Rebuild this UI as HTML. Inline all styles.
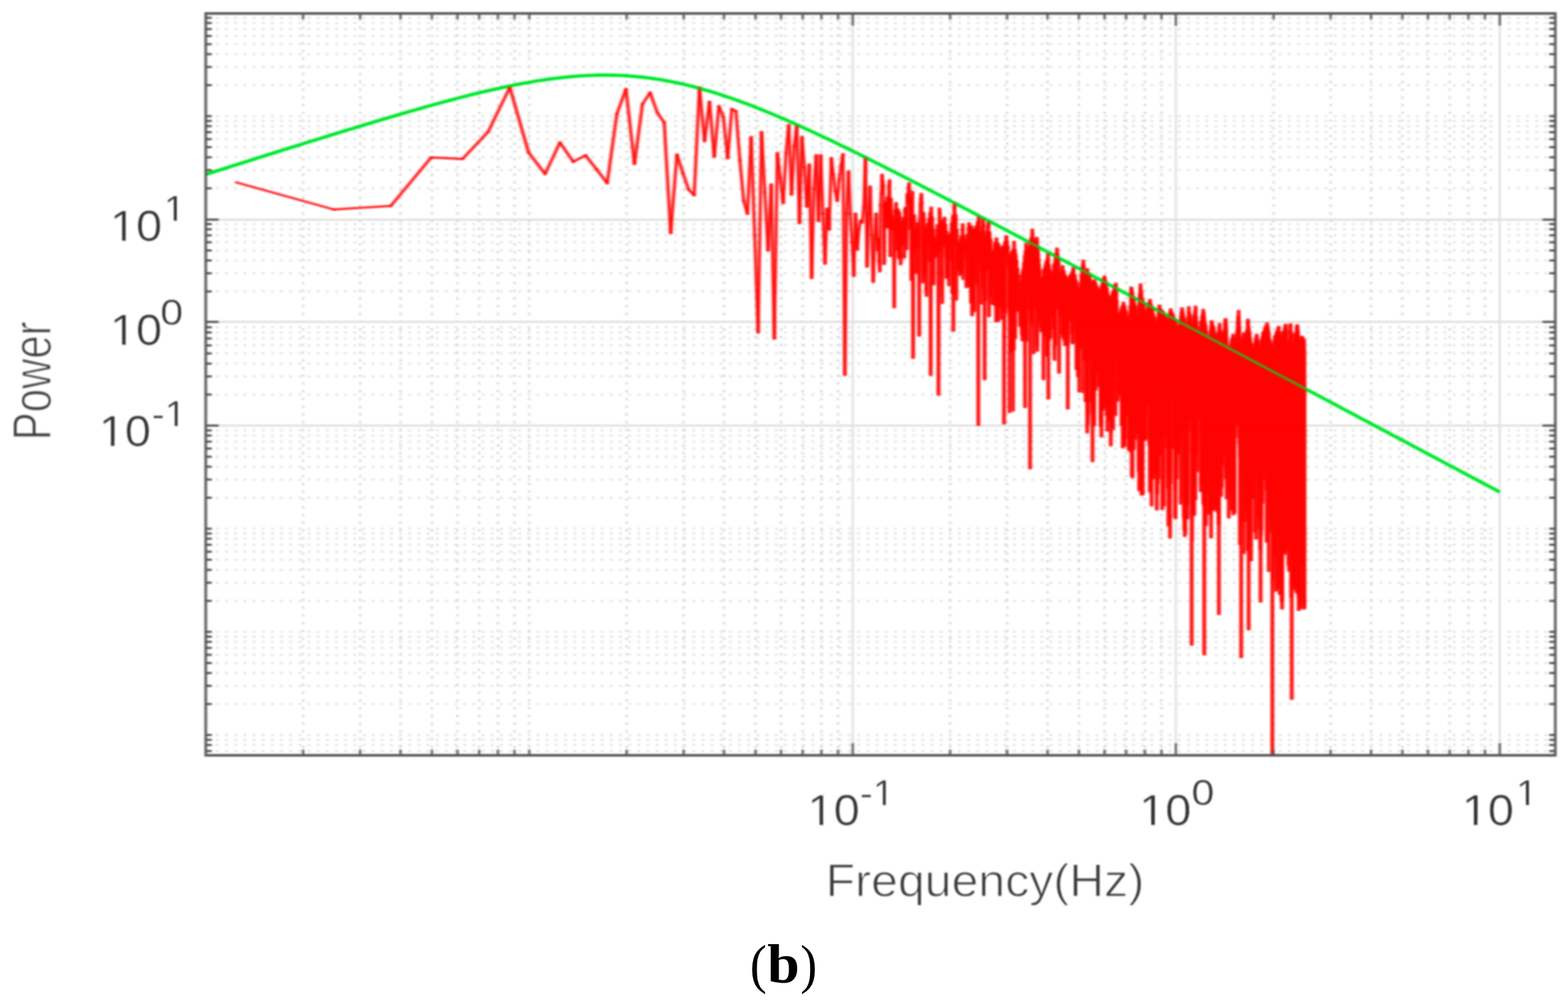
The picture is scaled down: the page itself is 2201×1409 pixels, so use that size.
<!DOCTYPE html>
<html lang="en"><head><meta charset="utf-8"><title>Power spectrum (b)</title>
<style>
html,body{margin:0;padding:0;background:#fff}
body{width:2201px;height:1409px;overflow:hidden}
svg{display:block}
text{font-family:"Liberation Sans",sans-serif}
.cap{font-family:"Liberation Serif",serif}
</style></head>
<body>
<svg width="2201" height="1409" viewBox="0 0 2201 1409">
<defs>
<filter id="b1" x="-2%" y="-2%" width="104%" height="104%" color-interpolation-filters="sRGB"><feGaussianBlur stdDeviation="1.6 1.3"/></filter>
<filter id="b2" x="-5%" y="-5%" width="110%" height="110%" color-interpolation-filters="sRGB"><feGaussianBlur stdDeviation="0.9"/></filter>
<clipPath id="c10"><polygon points="-12.40,-55.80 80.60,-55.80 80.60,7.44 33.98,7.44 33.98,-7.13 20.71,-7.13 20.71,7.44 15.95,7.44 15.95,-7.13 -12.40,-7.13"/></clipPath><clipPath id="c1"><polygon points="-10.10,-45.45 31.31,-45.45 31.31,-5.81 16.87,-5.81 16.87,6.06 12.99,6.06 12.99,-5.81 -10.10,-5.81"/></clipPath><clipPath id="cm1"><polygon points="-10.10,-45.45 48.13,-45.45 48.13,-5.81 33.68,-5.81 33.68,6.06 29.81,6.06 29.81,-5.81 -10.10,-5.81"/></clipPath>
<clipPath id="cp"><rect x="288.8" y="18.9" width="1894.3999999999999" height="1042.6"/></clipPath>
</defs>
<rect width="2201" height="1409" fill="#fff"/>
<g filter="url(#b1)">
<g stroke="#e0e0e0" stroke-width="3" stroke-dasharray="3.4 9.46" fill="none">
<path d="M303.4 1054.0H2183.2"/>
<path d="M303.4 1045.6H2183.2"/>
<path d="M303.4 1038.2H2183.2"/>
<path d="M303.4 1031.5H2183.2"/>
<path d="M303.4 988.0H2183.2"/>
<path d="M303.4 962.5H2183.2"/>
<path d="M303.4 944.4H2183.2"/>
<path d="M303.4 930.4H2183.2"/>
<path d="M303.4 918.9H2183.2"/>
<path d="M303.4 909.2H2183.2"/>
<path d="M303.4 900.8H2183.2"/>
<path d="M303.4 893.4H2183.2"/>
<path d="M303.4 886.8H2183.2"/>
<path d="M303.4 843.2H2183.2"/>
<path d="M303.4 817.7H2183.2"/>
<path d="M303.4 799.7H2183.2"/>
<path d="M303.4 785.6H2183.2"/>
<path d="M303.4 774.2H2183.2"/>
<path d="M303.4 764.5H2183.2"/>
<path d="M303.4 756.1H2183.2"/>
<path d="M303.4 748.7H2183.2"/>
<path d="M303.4 742.0H2183.2"/>
<path d="M303.4 698.5H2183.2"/>
<path d="M303.4 673.0H2183.2"/>
<path d="M303.4 654.9H2183.2"/>
<path d="M303.4 640.9H2183.2"/>
<path d="M303.4 629.4H2183.2"/>
<path d="M303.4 619.7H2183.2"/>
<path d="M303.4 611.3H2183.2"/>
<path d="M303.4 603.9H2183.2"/>
<path d="M303.4 553.7H2183.2"/>
<path d="M303.4 528.2H2183.2"/>
<path d="M303.4 510.2H2183.2"/>
<path d="M303.4 496.1H2183.2"/>
<path d="M303.4 484.7H2183.2"/>
<path d="M303.4 475.0H2183.2"/>
<path d="M303.4 466.6H2183.2"/>
<path d="M303.4 459.2H2183.2"/>
<path d="M303.4 409.0H2183.2"/>
<path d="M303.4 383.5H2183.2"/>
<path d="M303.4 365.4H2183.2"/>
<path d="M303.4 351.4H2183.2"/>
<path d="M303.4 339.9H2183.2"/>
<path d="M303.4 330.2H2183.2"/>
<path d="M303.4 321.8H2183.2"/>
<path d="M303.4 314.4H2183.2"/>
<path d="M303.4 264.2H2183.2"/>
<path d="M303.4 238.7H2183.2"/>
<path d="M303.4 220.7H2183.2"/>
<path d="M303.4 206.6H2183.2"/>
<path d="M303.4 195.2H2183.2"/>
<path d="M303.4 185.5H2183.2"/>
<path d="M303.4 177.1H2183.2"/>
<path d="M303.4 169.7H2183.2"/>
<path d="M303.4 163.1H2183.2"/>
<path d="M303.4 119.5H2183.2"/>
<path d="M303.4 94.0H2183.2"/>
<path d="M303.4 75.9H2183.2"/>
<path d="M303.4 61.9H2183.2"/>
<path d="M303.4 50.4H2183.2"/>
<path d="M303.4 40.7H2183.2"/>
<path d="M303.4 32.3H2183.2"/>
<path d="M303.4 24.9H2183.2"/>
</g>
<g stroke="#d4d4d4" stroke-width="3" stroke-dasharray="3.4 7.45" fill="none">
<path d="M425.5 26.5V1060.0"/>
<path d="M505.5 26.5V1060.0"/>
<path d="M562.2 26.5V1060.0"/>
<path d="M606.3 26.5V1060.0"/>
<path d="M642.2 26.5V1060.0"/>
<path d="M672.6 26.5V1060.0"/>
<path d="M698.9 26.5V1060.0"/>
<path d="M722.2 26.5V1060.0"/>
<path d="M743.0 26.5V1060.0"/>
<path d="M879.6 26.5V1060.0"/>
<path d="M959.6 26.5V1060.0"/>
<path d="M1016.3 26.5V1060.0"/>
<path d="M1060.4 26.5V1060.0"/>
<path d="M1096.3 26.5V1060.0"/>
<path d="M1126.7 26.5V1060.0"/>
<path d="M1153.0 26.5V1060.0"/>
<path d="M1176.3 26.5V1060.0"/>
<path d="M1333.7 26.5V1060.0"/>
<path d="M1413.7 26.5V1060.0"/>
<path d="M1470.4 26.5V1060.0"/>
<path d="M1514.5 26.5V1060.0"/>
<path d="M1550.4 26.5V1060.0"/>
<path d="M1580.8 26.5V1060.0"/>
<path d="M1607.1 26.5V1060.0"/>
<path d="M1630.4 26.5V1060.0"/>
<path d="M1787.8 26.5V1060.0"/>
<path d="M1867.8 26.5V1060.0"/>
<path d="M1924.5 26.5V1060.0"/>
<path d="M1968.6 26.5V1060.0"/>
<path d="M2004.5 26.5V1060.0"/>
<path d="M2034.9 26.5V1060.0"/>
<path d="M2061.2 26.5V1060.0"/>
<path d="M2084.5 26.5V1060.0"/>
</g>
<g stroke="#e0e0e0" stroke-width="3" fill="none">
<path d="M288.8 308.2H2183.2"/>
<path d="M288.8 451.8H2183.2"/>
<path d="M288.8 597.3H2183.2"/>
<path d="M1197.0 18.9V1060.0"/>
<path d="M1650.5 18.9V1060.0"/>
<path d="M2105.2 18.9V1060.0"/>
</g>
<g clip-path="url(#cp)">
<polyline points="288.9,244.8 293.4,243.3 298.0,241.9 302.5,240.4 307.1,239.0 311.6,237.6 316.2,236.1 320.7,234.7 325.3,233.2 329.8,231.8 334.4,230.4 338.9,228.9 343.5,227.5 348.0,226.0 352.6,224.6 357.1,223.2 361.7,221.7 366.2,220.3 370.8,218.9 375.3,217.4 379.9,216.0 384.4,214.6 389.0,213.1 393.6,211.7 398.1,210.3 402.7,208.9 407.2,207.4 411.8,206.0 416.3,204.6 420.9,203.2 425.4,201.8 430.0,200.3 434.5,198.9 439.1,197.5 443.6,196.1 448.2,194.7 452.7,193.3 457.3,191.9 461.8,190.4 466.4,189.0 470.9,187.6 475.5,186.2 480.1,184.8 484.6,183.4 489.2,182.0 493.7,180.7 498.3,179.3 502.8,177.9 507.4,176.5 511.9,175.1 516.5,173.8 521.0,172.4 525.6,171.0 530.1,169.6 534.7,168.3 539.2,166.9 543.8,165.6 548.3,164.2 552.9,162.9 557.4,161.6 562.0,160.2 566.5,158.9 571.1,157.6 575.7,156.3 580.2,155.0 584.8,153.7 589.3,152.4 593.9,151.1 598.4,149.8 603.0,148.5 607.5,147.3 612.1,146.0 616.6,144.8 621.2,143.5 625.7,142.3 630.3,141.1 634.8,139.9 639.4,138.7 643.9,137.5 648.5,136.3 653.0,135.1 657.6,134.0 662.1,132.8 666.7,131.7 671.2,130.6 675.8,129.5 680.4,128.4 684.9,127.4 689.5,126.3 694.0,125.3 698.6,124.3 703.1,123.3 707.7,122.3 712.2,121.3 716.8,120.4 721.3,119.5 725.9,118.6 730.4,117.7 735.0,116.9 739.5,116.1 744.1,115.3 748.6,114.5 753.2,113.7 757.7,113.0 762.3,112.3 766.9,111.6 771.4,111.0 776.0,110.4 780.5,109.8 785.1,109.3 789.6,108.8 794.2,108.3 798.7,107.9 803.3,107.4 807.8,107.1 812.4,106.7 816.9,106.4 821.5,106.2 826.0,105.9 830.6,105.8 835.1,105.6 839.7,105.5 844.2,105.4 848.8,105.4 853.3,105.4 857.9,105.5 862.5,105.6 867.0,105.7 871.6,105.9 876.1,106.2 880.7,106.5 885.2,106.8 889.8,107.1 894.3,107.6 898.9,108.0 903.4,108.5 908.0,109.1 912.5,109.6 917.1,110.3 921.6,111.0 926.2,111.7 930.7,112.4 935.3,113.3 939.8,114.1 944.4,115.0 948.9,115.9 953.5,116.9 958.1,117.9 962.6,119.0 967.2,120.1 971.7,121.3 976.3,122.4 980.8,123.7 985.4,124.9 989.9,126.2 994.5,127.5 999.0,128.9 1003.6,130.3 1008.1,131.7 1012.7,133.2 1017.2,134.7 1021.8,136.3 1026.3,137.8 1030.9,139.4 1035.4,141.0 1040.0,142.7 1044.5,144.4 1049.1,146.1 1053.7,147.8 1058.2,149.6 1062.8,151.4 1067.3,153.2 1071.9,155.0 1076.4,156.9 1081.0,158.8 1085.5,160.6 1090.1,162.6 1094.6,164.5 1099.2,166.5 1103.7,168.4 1108.3,170.4 1112.8,172.4 1117.4,174.5 1121.9,176.5 1126.5,178.6 1131.0,180.7 1135.6,182.7 1140.1,184.8 1144.7,187.0 1149.2,189.1 1153.8,191.2 1158.4,193.4 1162.9,195.5 1167.5,197.7 1172.0,199.9 1176.6,202.1 1181.1,204.3 1185.7,206.5 1190.2,208.7 1194.8,211.0 1199.3,213.2 1203.9,215.4 1208.4,217.7 1213.0,220.0 1217.5,222.2 1222.1,224.5 1226.6,226.8 1231.2,229.1 1235.7,231.4 1240.3,233.7 1244.8,236.0 1249.4,238.3 1254.0,240.6 1258.5,242.9 1263.1,245.2 1267.6,247.5 1272.2,249.9 1276.7,252.2 1281.3,254.5 1285.8,256.9 1290.4,259.2 1294.9,261.6 1299.5,263.9 1304.0,266.3 1308.6,268.6 1313.1,271.0 1317.7,273.4 1322.2,275.7 1326.8,278.1 1331.3,280.5 1335.9,282.8 1340.5,285.2 1345.0,287.6 1349.6,290.0 1354.1,292.3 1358.7,294.7 1363.2,297.1 1367.8,299.5 1372.3,301.9 1376.9,304.3 1381.4,306.7 1386.0,309.0 1390.5,311.4 1395.1,313.8 1399.6,316.2 1404.2,318.6 1408.7,321.0 1413.3,323.4 1417.8,325.8 1422.4,328.2 1426.9,330.6 1431.5,333.0 1436.1,335.4 1440.6,337.8 1445.2,340.2 1449.7,342.6 1454.3,345.0 1458.8,347.4 1463.4,349.8 1467.9,352.2 1472.5,354.7 1477.0,357.1 1481.6,359.5 1486.1,361.9 1490.7,364.3 1495.2,366.7 1499.8,369.1 1504.3,371.5 1508.9,373.9 1513.4,376.3 1518.0,378.7 1522.5,381.2 1527.1,383.6 1531.7,386.0 1536.2,388.4 1540.8,390.8 1545.3,393.2 1549.9,395.6 1554.4,398.0 1559.0,400.5 1563.5,402.9 1568.1,405.3 1572.6,407.7 1577.2,410.1 1581.7,412.5 1586.3,414.9 1590.8,417.4 1595.4,419.8 1599.9,422.2 1604.5,424.6 1609.0,427.0 1613.6,429.4 1618.1,431.9 1622.7,434.3 1627.2,436.7 1631.8,439.1 1636.4,441.5 1640.9,443.9 1645.5,446.3 1650.0,448.8 1654.6,451.2 1659.1,453.6 1663.7,456.0 1668.2,458.4 1672.8,460.8 1677.3,463.3 1681.9,465.7 1686.4,468.1 1691.0,470.5 1695.5,472.9 1700.1,475.4 1704.6,477.8 1709.2,480.2 1713.7,482.6 1718.3,485.0 1722.8,487.4 1727.4,489.9 1732.0,492.3 1736.5,494.7 1741.1,497.1 1745.6,499.5 1750.2,501.9 1754.7,504.4 1759.3,506.8 1763.8,509.2 1768.4,511.6 1772.9,514.0 1777.5,516.5 1782.0,518.9 1786.6,521.3 1791.1,523.7 1795.7,526.1 1800.2,528.5 1804.8,531.0 1809.3,533.4 1813.9,535.8 1818.4,538.2 1823.0,540.6 1827.6,543.1 1832.1,545.5 1836.7,547.9 1841.2,550.3 1845.8,552.7 1850.3,555.1 1854.9,557.6 1859.4,560.0 1864.0,562.4 1868.5,564.8 1873.1,567.2 1877.6,569.7 1882.2,572.1 1886.7,574.5 1891.3,576.9 1895.8,579.3 1900.4,581.7 1904.9,584.2 1909.5,586.6 1914.0,589.0 1918.6,591.4 1923.2,593.8 1927.7,596.3 1932.3,598.7 1936.8,601.1 1941.4,603.5 1945.9,605.9 1950.5,608.4 1955.0,610.8 1959.6,613.2 1964.1,615.6 1968.7,618.0 1973.2,620.4 1977.8,622.9 1982.3,625.3 1986.9,627.7 1991.4,630.1 1996.0,632.5 2000.5,635.0 2005.1,637.4 2009.7,639.8 2014.2,642.2 2018.8,644.6 2023.3,647.0 2027.9,649.5 2032.4,651.9 2037.0,654.3 2041.5,656.7 2046.1,659.1 2050.6,661.6 2055.2,664.0 2059.7,666.4 2064.3,668.8 2068.8,671.2 2073.4,673.6 2077.9,676.1 2082.5,678.5 2087.0,680.9 2091.6,683.3 2096.1,685.7 2100.7,688.2 2105.2,690.6" fill="none" stroke="#00f542" stroke-width="4.8" stroke-linejoin="round"/>
<g transform="scale(1.5,1)" fill="none" stroke="#ff0000" stroke-linejoin="round" stroke-linecap="round"><g stroke-width="4.0" stroke-opacity="0.45"><path d="M221.24 256.0L312.37 294.0M432.84 223.0L456.81 185.0M510.12 244.0L523.97 200.0M558.47 238.0L568.21 257.0M593.74 230.0L601.25 146.0M621.52 172.0L627.63 327.0M644.44 266.0L649.60 274.0M663.95 143.0L668.41 220.0M680.94 222.0L684.87 153.0M695.98 282.0L699.49 300.0M709.48 466.5L712.65 185.4M721.72 259.0L724.61 475.0M732.92 285.0L735.57 215.0M743.23 205.0L745.69 177.0M752.80 235.0L755.09 290.0M761.72 265.0L763.85 218.0M770.07 300.0L772.07 370.0M777.92 222.0L779.81 245.0M785.33 252.0L787.12 232.0M792.34 300.0L794.04 240.8M799.00 387.0L800.61 300.0M805.34 310.0L806.88 312.0M811.38 374.0L812.85 300.0M817.16 395.5L818.57 335.0M821.34 351.0L822.02 335.1M824.05 287.8L824.72 271.6M826.70 260.3L827.36 370.3M829.31 318.5L829.95 285.3M831.86 260.8L832.49 253.2M834.37 322.2L834.98 302.6M836.82 431.0L837.43 296.4M839.24 350.8L839.83 294.2M841.60 298.3L842.19 305.7M843.93 311.6L844.51 343.1M846.22 361.3L846.78 295.0M848.47 349.5L849.02 273.1M850.68 257.5L851.22 267.0M852.85 392.6L853.39 278.6M854.99 313.7L855.52 302.5M857.09 377.4L857.61 382.8M859.16 344.6L859.67 319.0M861.20 287.2L861.70 279.3M863.21 346.7L863.70 396.0M865.18 386.3L865.67 319.4M867.13 414.9L867.61 320.2M869.05 333.0L869.53 307.4M870.94 526.0L871.41 291.6M872.81 347.0L873.27 322.2M874.65 360.9L875.10 341.8M876.46 338.4L876.91 324.4M878.25 553.7L878.69 415.1M880.01 342.9L880.45 353.5M881.75 425.0L882.19 315.2M883.47 309.0L883.90 305.8M885.17 360.5L885.59 389.8M886.84 388.8L887.26 331.2M888.50 332.6L888.91 342.6M890.13 337.4L890.54 315.0M891.74 303.2L892.15 464.0M893.34 285.2L893.73 318.6M894.91 420.2L895.30 322.5M896.47 340.8L896.86 362.8M898.01 343.9L898.39 385.7M899.53 332.0L899.90 342.5M901.03 315.0L901.40 391.3M902.52 337.6L902.88 352.4M903.98 363.0L904.35 402.7M905.44 329.5L905.80 401.0M906.87 313.6L907.23 318.8M908.30 320.1L908.65 424.4M909.70 442.2L910.05 321.9M911.09 327.2L911.44 323.2M912.47 321.7L912.81 337.8M913.83 318.2L914.17 350.8M915.18 360.5L915.52 596.0M916.51 369.8L916.85 344.1M917.84 379.6L918.16 333.8M919.14 319.2L919.47 362.2M920.44 316.2L920.76 404.2M921.72 361.1L922.04 420.6M922.99 329.3L923.31 341.1M924.25 318.8L924.56 319.0M925.50 443.5L925.81 325.7M926.73 335.6L927.04 339.1M927.95 357.0L928.26 407.3M929.17 365.9L929.47 400.7M930.37 369.1L930.67 427.8M931.56 358.0L931.85 341.0M932.74 341.9L933.03 342.1M933.90 420.3L934.20 450.2M935.06 419.8L935.35 431.0M936.21 393.4L936.50 355.6M937.35 447.1L937.63 351.8M938.48 346.0L938.76 377.8M939.60 594.0L939.88 473.0M940.71 438.3L940.98 347.6M941.81 331.8L942.08 340.8M942.90 344.9L943.17 348.5M943.98 360.1L944.25 431.7M945.05 390.5L945.32 443.3M946.12 493.3L946.38 359.8M947.17 419.8L947.44 353.2M948.22 350.6L948.48 465.0M949.26 400.0L949.52 351.2M950.29 356.4L950.55 361.0M951.32 367.0L951.57 435.9M952.33 378.8L952.58 436.2M953.34 387.4L953.59 420.6M954.34 397.0L954.59 457.5M955.33 444.9L955.58 423.4M956.32 469.3L956.56 386.2M957.29 382.7L957.54 434.4M958.26 369.3L958.50 383.1M959.23 571.0L959.47 397.9M960.18 342.5L960.42 346.5M961.13 478.1L961.37 350.5M962.07 352.6L962.31 357.1M963.01 388.6L963.24 434.2M963.94 657.0L964.17 341.1M964.86 447.8L965.09 334.5M965.78 424.0L966.01 322.6M966.69 376.1L966.91 334.9M967.59 344.5L967.82 355.3M968.49 387.2L968.71 341.9M969.38 340.5L969.60 337.6M970.27 334.0L970.49 340.4M971.15 382.0L971.36 353.8M972.02 401.0L972.24 371.2M972.89 378.3L973.10 396.9M973.75 458.8L973.96 400.2M974.61 412.9L974.82 396.4M975.46 445.6L975.67 413.8M976.30 456.4L976.51 532.0M977.14 381.6L977.35 471.9M977.98 470.5L978.18 377.2M978.81 371.2L979.01 498.9M979.63 378.6L979.84 365.5M980.45 363.1L980.65 356.7M981.26 370.8L981.47 373.2M982.07 380.7L982.27 391.3M982.88 405.0L983.08 473.3M983.68 395.9L983.88 443.4M984.47 389.5L984.67 390.0M985.26 382.5L985.46 441.4M986.05 440.9L986.24 373.6M986.83 504.7L987.02 370.6M987.60 376.5L987.79 363.5M988.37 359.2L988.56 402.9M989.14 348.9L989.33 373.9M989.90 365.2L990.09 433.2M990.66 371.3L990.85 393.2M991.41 383.4L991.60 428.4M992.16 441.5L992.35 386.9M992.91 414.3L993.09 383.8M993.65 380.2L993.83 443.7M994.38 373.7L994.57 472.9M995.12 434.1L995.30 468.8M995.84 477.2L996.03 385.0M996.57 484.0L996.75 387.0M997.29 392.7L997.47 418.8M998.01 395.2L998.18 407.7M998.72 399.7L998.90 483.4M999.43 438.4L999.60 397.2M1000.13 396.4L1000.31 408.8M1000.83 425.7L1001.01 388.2M1001.53 388.6L1001.70 435.8M1002.22 434.2L1002.40 387.2M1002.91 434.5L1003.09 384.1M1003.60 480.9L1003.77 382.0M1004.28 376.5L1004.45 379.7M1004.96 420.2L1005.13 385.9M1005.64 386.9L1005.81 387.2M1006.31 394.4L1006.48 446.5M1006.98 476.2L1007.15 396.8M1007.65 399.2L1007.81 445.4M1008.31 476.9L1008.47 406.7M1008.97 405.2L1009.13 405.5M1009.62 431.2L1009.79 464.4M1010.28 457.4L1010.44 486.8M1010.93 426.7L1011.09 402.2M1011.57 396.8L1011.73 409.6M1012.21 388.4L1012.37 471.5M1012.85 378.4L1013.01 375.8M1013.49 372.3L1013.65 372.0M1014.12 373.9L1014.28 411.2M1014.76 452.8L1014.91 386.9M1015.38 392.5L1015.54 391.2M1016.01 392.5L1016.16 390.4M1016.63 388.2L1016.78 387.8M1017.25 383.8L1017.40 606.6M1017.86 383.3L1018.02 595.0M1018.48 445.5L1018.63 385.7M1019.09 410.5L1019.24 387.3M1019.69 391.8L1019.85 472.0M1020.30 417.3L1020.45 396.1M1020.90 451.1L1021.05 396.5M1021.50 397.9L1021.65 398.5M1022.10 399.0L1022.24 501.2M1022.69 426.9L1022.84 400.3M1023.28 482.1L1023.43 396.0M1023.87 395.5L1024.01 596.4M1024.45 470.5L1024.60 507.5M1025.04 466.9L1025.18 399.3M1025.62 400.5L1025.76 402.6M1026.20 405.6L1026.34 402.7M1026.77 406.7L1026.91 451.8M1027.34 473.4L1027.49 412.1M1027.91 413.9L1028.06 413.7M1028.48 466.5L1028.62 415.0M1029.05 523.9L1029.19 407.7M1029.61 408.6L1029.75 409.8M1030.17 406.7L1030.31 589.3M1030.73 612.2L1030.87 401.6M1031.29 402.7L1031.42 402.0M1031.84 397.0L1031.98 445.1M1032.39 485.1L1032.53 574.7M1032.94 431.0L1033.08 391.7M1033.49 389.2L1033.62 388.6M1034.03 393.6L1034.17 571.1M1034.57 536.1L1034.71 396.8M1035.11 404.7L1035.25 424.4M1035.65 582.4L1035.78 405.6M1036.19 411.0L1036.32 603.9M1036.72 468.3L1036.85 464.7M1037.25 417.0L1037.38 486.5M1037.78 479.1L1037.91 590.2M1038.31 480.2L1038.44 438.0M1038.83 423.4L1038.96 512.9M1039.35 487.5L1039.48 624.7M1039.87 463.1L1040.00 420.3M1040.39 415.9L1040.52 416.6M1040.91 415.2L1041.04 503.6M1041.42 414.1L1041.55 448.6M1041.94 411.7L1042.06 464.6M1042.45 483.7L1042.57 408.1M1042.96 408.2L1043.08 403.4M1043.46 401.7L1043.65 425.5M1044.22 398.2L1044.41 417.4M1044.97 420.9L1045.16 473.6M1045.72 443.0L1045.90 562.2M1046.46 450.0L1046.65 504.7M1047.20 484.7L1047.39 549.2M1047.94 520.3L1048.12 440.9M1048.67 438.7L1048.85 452.8M1049.39 471.2L1049.58 596.1M1050.12 485.1L1050.30 430.7M1050.84 432.5L1051.02 429.3M1051.55 431.2L1051.73 592.8M1052.26 600.3L1052.44 432.1M1052.97 439.9L1053.15 613.9M1053.67 464.5L1053.85 439.9M1054.37 444.6L1054.55 511.6M1055.07 581.4L1055.24 524.8M1055.76 573.5L1055.94 453.5M1056.45 537.5L1056.62 454.7M1057.14 494.7L1057.31 441.7M1057.82 430.2L1057.99 561.4M1058.50 412.5L1058.67 403.7M1059.17 668.0L1059.34 594.1M1059.84 669.4L1060.01 417.1M1060.51 420.9L1060.68 421.7M1061.18 425.1L1061.34 484.1M1061.84 594.8L1062.00 429.3M1062.50 499.7L1062.66 433.9M1063.15 438.4L1063.31 440.5M1063.80 443.7L1063.96 481.7M1064.45 449.4L1064.61 607.1M1065.10 483.1L1065.26 447.5M1065.74 435.4L1065.90 431.3M1066.38 460.5L1066.53 461.5M1067.01 411.2L1067.17 404.9M1067.64 407.3L1067.80 540.6M1068.27 693.7L1068.43 464.7M1068.90 476.9L1069.06 421.8M1069.52 424.5L1069.68 427.0M1070.14 427.7L1070.30 430.5M1070.76 435.7L1070.92 583.0M1071.38 451.3L1071.53 444.3M1071.99 449.4L1072.14 473.2M1072.60 615.1L1072.75 489.1M1073.20 513.6L1073.36 442.6M1073.81 437.2L1073.96 568.5M1074.41 433.8L1074.56 462.7M1075.01 445.2L1075.16 426.7M1075.60 424.4L1075.75 427.2M1076.19 421.0L1076.34 425.0M1076.78 430.4L1076.93 428.4M1077.37 430.7L1077.52 631.9M1077.96 434.3L1078.10 505.8M1078.54 562.6L1078.68 557.6M1079.12 477.8L1079.26 443.6M1079.70 670.8L1079.84 444.3M1080.27 448.9L1080.41 450.7M1080.84 629.6L1080.99 482.0M1081.41 484.9L1081.55 459.7M1081.98 457.3L1082.12 579.3M1082.54 714.7L1082.68 459.7M1083.11 564.1L1083.25 678.2M1083.67 539.2L1083.81 445.4M1084.22 497.1L1084.36 438.0M1084.78 434.4L1084.92 429.0M1085.33 435.1L1085.47 453.0M1085.88 434.7L1086.02 637.6M1086.43 617.3L1086.57 463.5M1086.98 437.3L1087.11 435.9M1087.52 440.3L1087.66 714.2M1088.06 616.6L1088.20 488.2M1088.60 464.3L1088.73 442.9M1089.14 709.0L1089.27 442.7M1089.67 447.7L1089.81 487.5M1090.20 445.0L1090.34 517.7M1090.74 447.5L1090.87 476.2M1091.26 525.5L1091.40 451.4M1091.79 507.7L1091.92 454.0M1092.31 453.0L1092.44 572.1M1092.84 670.0L1092.97 452.2M1093.36 737.2L1093.49 534.5M1093.87 452.7L1094.00 447.1M1094.39 443.5L1094.52 559.1M1094.90 754.0L1095.03 724.5M1095.42 677.8L1095.54 434.2M1095.93 515.7L1096.05 440.9M1096.43 442.5L1096.56 439.4M1096.94 532.0L1097.07 442.3M1097.44 521.9L1097.57 629.1M1097.95 448.6L1098.07 446.4M1098.45 448.0L1098.57 485.2M1098.94 534.0L1099.07 623.7M1099.44 450.4L1099.56 725.0M1099.94 452.3L1100.06 727.1M1100.43 459.0L1100.55 456.8M1100.92 460.1L1101.04 611.9M1101.41 505.1L1101.53 459.0M1101.90 545.7L1102.02 464.0M1102.38 464.3L1102.50 608.6M1102.86 636.3L1102.99 463.4M1103.35 470.2L1103.47 465.6M1103.83 463.2L1103.95 503.9M1104.30 491.2L1104.42 452.8M1104.78 453.7L1104.90 706.5M1105.26 444.3L1105.38 697.5M1105.73 438.2L1105.85 617.3M1106.20 432.8L1106.32 583.0M1106.67 462.4L1106.79 442.8M1107.14 440.9L1107.26 443.9M1107.61 561.2L1107.72 448.0M1108.07 450.2L1108.19 447.5M1108.53 453.3L1108.65 452.6M1109.00 453.1L1109.11 454.7M1109.46 458.5L1109.57 462.2M1109.91 472.4L1110.03 597.5M1110.37 586.5L1110.48 487.9M1110.83 486.8L1110.94 483.3M1111.28 727.0L1111.39 468.3M1111.73 510.4L1111.84 590.7M1112.18 531.8L1112.29 503.5M1112.63 604.9L1112.74 463.0M1113.08 588.9L1113.19 577.1M1113.52 471.9L1113.64 447.7M1113.97 449.5L1114.08 449.2M1114.41 454.5L1114.52 527.4M1114.85 459.4L1114.96 461.1M1115.29 498.2L1115.40 461.9M1115.73 463.8L1115.88 505.7M1116.31 454.4L1116.46 720.0M1116.89 452.7L1117.04 495.2M1117.47 559.9L1117.62 722.2M1118.05 645.0L1118.19 538.8M1118.62 700.4L1118.76 430.6M1119.19 637.1L1119.33 444.7M1119.76 495.6L1119.90 528.0M1120.32 474.4L1120.46 619.4M1120.88 661.1L1121.02 481.6M1121.44 474.0L1121.58 472.2M1122.00 587.1L1122.14 467.0M1122.56 469.2L1122.69 527.2M1123.11 515.7L1123.25 489.3M1123.66 689.0L1123.80 653.4M1124.21 570.0L1124.34 451.9M1124.75 601.5L1124.89 611.8M1125.30 445.2L1125.43 444.9M1125.84 442.2L1125.97 435.0M1126.38 438.9L1126.51 592.5M1126.92 918.0L1127.05 627.6M1127.45 546.8L1127.58 593.1M1127.98 457.3L1128.12 504.1M1128.51 465.8L1128.65 736.6M1129.04 560.7L1129.17 496.3M1129.57 688.5L1129.70 473.5M1130.09 575.4L1130.22 479.0M1130.62 692.1L1130.75 482.6M1131.14 626.5L1131.27 491.8M1131.65 572.1L1131.78 482.9M1132.17 476.5L1132.30 546.1M1132.68 472.6L1132.81 510.1M1133.20 463.4L1133.32 754.0M1133.71 458.2L1133.83 451.0M1134.21 538.0L1134.34 715.9M1134.72 543.8L1134.85 457.9M1135.23 570.1L1135.35 463.4M1135.73 461.8L1135.85 514.6M1136.23 589.4L1136.35 660.8M1136.73 583.1L1136.85 533.6M1137.22 474.1L1137.35 471.1M1137.72 476.2L1137.84 473.8M1138.21 476.6L1138.33 538.7M1138.70 573.8L1138.82 523.2M1139.19 717.4L1139.31 533.3M1139.68 469.5L1139.80 473.4M1140.16 466.4L1140.28 468.8M1140.65 861.5L1140.77 635.1M1141.13 668.4L1141.25 482.3M1141.61 590.9L1141.73 464.6M1142.09 466.0L1142.21 553.3M1142.57 604.5L1142.68 470.0M1143.04 475.7L1143.16 652.6M1143.51 556.9L1143.63 479.2M1143.99 650.7L1144.10 482.9M1144.46 641.5L1144.57 477.0M1144.92 472.6L1145.04 565.3M1145.39 523.5L1145.51 468.6M1145.86 572.4L1145.97 463.6M1146.32 488.2L1146.43 455.6M1146.78 449.8L1146.90 448.0M1147.24 460.9L1147.36 511.2M1147.70 656.0L1147.81 473.9M1148.16 484.4L1148.27 534.5M1148.61 529.6L1148.72 496.0M1149.06 522.2L1149.18 501.3M1149.52 498.2L1149.63 526.4M1149.97 497.3L1150.08 537.9M1150.42 522.2L1150.53 490.7M1150.86 490.2L1150.98 642.4M1151.31 491.5L1151.42 524.2M1151.75 488.0L1151.87 692.7M1152.20 714.9L1152.31 499.7M1152.64 608.5L1152.75 497.7M1153.08 492.0L1153.19 477.5M1153.52 492.2L1153.63 474.7M1153.96 470.0L1154.06 476.3M1154.39 475.7L1154.50 486.9M1154.83 476.2L1154.93 641.8M1155.26 499.3L1155.37 719.0M1155.69 589.5L1155.80 501.1M1156.12 486.8L1156.23 613.3M1156.55 490.1L1156.66 590.8M1156.98 578.4L1157.08 481.2M1157.40 527.5L1157.51 472.9M1157.83 468.3L1157.93 484.5M1158.25 488.8L1158.35 452.3M1158.67 573.8L1158.78 447.6M1159.09 436.4L1159.20 554.5M1159.51 474.8L1159.61 457.7M1159.93 484.0L1160.03 476.7M1160.34 763.5L1160.45 490.5M1160.76 544.4L1160.86 566.3M1161.17 554.2L1161.28 730.8M1161.59 486.5L1161.69 486.2M1162.00 486.8L1162.10 615.2M1162.41 641.9L1162.51 572.8M1162.82 540.6L1162.92 653.6M1163.22 486.3L1163.32 661.8M1163.63 590.4L1163.73 561.3M1164.03 468.0L1164.13 472.9M1164.44 477.1L1164.54 731.0M1164.84 587.1L1164.94 556.1M1165.24 620.3L1165.34 585.1M1165.64 718.9L1165.74 529.6M1166.04 677.6L1166.14 495.7M1166.44 492.1L1166.54 647.8M1166.83 701.9L1166.93 467.1M1167.23 492.7L1167.33 463.0M1167.62 455.1L1167.72 454.0M1168.01 639.1L1168.11 458.2M1168.41 461.4L1168.50 883.0M1168.80 465.1L1168.89 636.4M1169.19 467.7L1169.28 564.2M1169.57 473.2L1169.67 740.0M1169.96 478.4L1170.06 479.1M1170.35 484.1L1170.44 648.9M1170.73 786.1L1170.83 483.7M1171.12 513.4L1171.21 488.7M1171.50 490.0L1171.59 487.0M1171.88 491.9L1171.97 548.1M1172.26 698.7L1172.35 581.9M1172.64 674.3L1172.73 495.4M1173.02 679.2L1173.11 515.7M1173.39 603.5L1173.49 527.4M1173.77 537.3L1173.86 488.6M1174.14 484.6L1174.24 489.6M1174.52 482.2L1174.61 483.6M1174.89 479.3L1174.98 482.3M1175.26 476.0L1175.36 480.8M1175.63 474.6L1175.73 620.3M1176.00 470.0L1176.10 472.0M1176.37 476.2L1176.46 568.6M1176.74 586.0L1176.83 512.9M1177.11 522.9L1177.20 485.7M1177.47 506.8L1177.56 483.4M1177.84 488.4L1177.93 489.7M1178.20 627.1L1178.29 741.7M1178.56 618.6L1178.65 495.1M1178.92 514.1L1179.01 493.3M1179.28 489.7L1179.37 770.5M1179.64 844.0L1179.73 488.3M1180.00 487.4L1180.09 751.1M1180.36 481.9L1180.45 743.0M1180.72 489.4L1180.80 610.8M1181.07 495.1L1181.16 474.8M1181.43 475.1L1181.51 473.4M1181.78 471.5L1181.87 474.5M1182.13 470.2L1182.22 468.1M1182.48 523.8L1182.57 469.5M1182.83 672.6L1182.92 468.0M1183.18 465.1L1183.27 466.3M1183.53 463.4L1183.62 506.1M1183.88 466.5L1183.97 529.9M1184.23 575.9L1184.31 460.8M1184.57 568.8L1184.66 462.6M1184.92 461.7L1185.01 457.8M1185.26 459.6L1185.35 759.7M1185.61 459.0L1185.69 453.9M1185.95 609.4L1186.04 458.0M1186.29 460.8L1186.38 557.4M1186.63 462.8L1186.72 467.3M1186.97 582.7L1187.06 553.1M1187.31 800.9L1187.40 474.1M1187.65 486.8L1187.73 476.3M1187.99 481.7L1188.07 480.3M1188.32 659.4L1188.41 479.8M1188.66 482.9L1188.74 486.0M1188.99 505.2L1189.08 483.9M1189.33 634.3L1189.41 488.4M1189.66 486.9L1189.74 685.2M1189.99 491.9L1190.08 693.1M1190.32 490.8L1190.41 554.5M1190.66 1060.0L1190.74 518.4M1190.99 494.2L1191.07 491.2M1191.31 489.9L1191.40 741.6M1191.64 486.5L1191.72 522.0M1191.97 582.4L1192.05 505.7M1192.30 588.8L1192.38 481.1M1192.62 502.6L1192.70 479.6M1192.95 478.8L1193.03 486.1M1193.27 556.5L1193.35 472.5M1193.59 494.3L1193.67 637.4M1193.92 473.6L1194.00 471.2M1194.24 470.6L1194.32 510.8M1194.56 510.6L1194.64 466.8M1194.88 469.8L1194.96 523.6M1195.20 466.4L1195.28 665.1M1195.52 506.4L1195.60 826.0M1195.83 685.0L1195.91 464.9M1196.15 466.0L1196.23 519.6M1196.47 459.0L1196.55 460.3M1196.78 578.1L1196.86 467.4M1197.10 468.4L1197.18 465.8M1197.41 469.1L1197.49 833.3M1197.72 509.2L1197.80 474.5M1198.04 474.0L1198.12 530.7M1198.35 515.9L1198.43 483.5M1198.66 482.1L1198.74 485.0M1198.97 482.3L1199.05 478.9M1199.28 482.2L1199.36 550.7M1199.59 842.9L1199.67 479.5M1199.90 472.7L1199.97 475.8M1200.20 476.1L1200.28 715.8M1200.51 474.5L1200.59 536.8M1200.82 467.8L1200.89 774.6M1201.12 466.8L1201.20 567.6M1201.43 561.8L1201.50 652.7M1201.73 494.2L1201.81 497.5M1202.03 774.5L1202.11 464.8M1202.34 464.3L1202.41 460.7M1202.64 459.9L1202.71 777.0M1202.94 462.2L1203.01 536.7M1203.24 562.6L1203.31 463.2M1203.54 463.0L1203.61 464.0M1203.84 471.6L1203.91 467.7M1204.14 475.7L1204.21 475.5M1204.43 478.2L1204.51 524.6M1204.73 481.9L1204.80 484.8M1205.03 488.6L1205.10 487.5M1205.32 549.5L1205.40 491.1M1205.62 494.8L1205.69 498.9M1205.91 498.8L1205.98 501.5M1206.21 617.3L1206.28 800.8M1206.50 490.5L1206.57 632.5M1206.79 690.3L1206.86 478.8M1207.08 667.4L1207.15 519.5M1207.37 543.3L1207.45 573.7M1207.66 457.7L1207.74 460.9M1207.95 465.9L1208.03 468.3M1208.24 466.1L1208.31 838.1M1208.53 512.4L1208.60 475.1M1208.82 980.6L1208.89 548.4M1209.11 553.4L1209.18 484.1M1209.39 486.9L1209.46 581.3M1209.68 732.3L1209.75 541.3M1209.96 824.1L1210.04 497.7M1210.25 496.1L1210.32 619.1M1210.53 491.1L1210.60 520.3M1210.82 485.1L1210.89 649.1M1211.10 633.9L1211.17 480.5M1211.38 826.8L1211.45 479.2M1211.66 477.2L1211.73 474.9M1211.94 476.2L1212.01 475.3M1212.22 469.1L1212.29 471.2M1212.50 472.2L1212.57 502.8M1212.78 524.4L1212.85 467.7M1213.06 607.7L1213.13 466.9M1213.34 464.8L1213.41 466.3M1213.62 460.5L1213.69 459.2M1213.90 457.4L1213.96 456.8M1214.17 460.6L1214.24 579.7M1214.45 468.6L1214.52 635.6M1214.72 714.2L1214.79 472.9M1215.00 474.6L1215.07 475.5M1215.27 476.6L1215.34 855.7M1215.54 554.8L1215.61 482.6M1215.82 487.2L1215.89 510.3M1216.09 490.2L1216.16 811.7M1216.36 749.2L1216.43 707.9M1216.63 500.4L1216.70 543.6M1216.90 596.6L1216.97 484.9M1217.17 853.6L1217.24 482.9M1217.44 480.8L1217.51 554.3M1217.71 782.8L1217.78 477.2M1217.98 480.2L1218.05 792.8M1218.25 472.8L1218.32 475.0M1218.52 478.0L1218.58 474.7M1218.78 476.9L1218.85 534.6M1219.05 477.3L1219.12 626.0M1219.31 740.8L1219.38 476.2M1219.58 477.9L1219.65 476.0M1219.84 478.6L1219.91 477.4M1220.11 561.4L1220.17 511.2M1220.37 853.8L1220.44 490.3"/><path d="M312.37 294.0L365.68 289.0M456.81 185.0L477.08 122.5M523.97 200.0L536.50 227.0M568.21 257.0L577.28 160.0M601.25 146.0L608.36 130.0M627.63 327.0L633.48 217.0M649.60 274.0L654.56 123.0M668.41 220.0L672.72 149.0M684.87 153.0L688.68 156.0M699.49 300.0L702.91 192.5M712.65 185.4L715.74 270.0M724.61 475.0L727.44 215.0M735.57 215.0L738.18 175.5M745.69 177.0L748.10 313.0M755.09 290.0L757.33 231.0M763.85 218.0L765.96 310.0M772.07 370.0L774.05 293.0M779.81 245.0L781.68 268.0M787.12 232.0L788.88 216.6M794.04 240.8L795.71 300.0M800.61 300.0L802.21 350.0M806.88 312.0L808.40 290.0M812.85 300.0L814.31 262.0M818.57 335.0L819.96 300.0M822.02 335.1L822.70 367.5M824.72 271.6L825.38 245.4M827.36 370.3L828.01 283.4M829.95 285.3L830.59 277.0M832.49 253.2L833.12 359.2M834.98 302.6L835.60 311.1M837.43 296.4L838.03 296.4M839.83 294.2L840.43 295.2M842.19 305.7L842.77 370.6M844.51 343.1L845.08 311.8M846.78 295.0L847.35 291.7M849.02 273.1L849.58 285.1M851.22 267.0L851.77 321.0M853.39 278.6L853.92 269.6M855.52 302.5L856.04 348.8M857.61 382.8L858.13 314.3M859.67 319.0L860.18 470.7M861.70 279.3L862.21 272.4M863.70 396.0L864.20 298.9M865.67 319.4L866.16 323.9M867.61 320.2L868.09 313.9M869.53 307.4L870.00 365.8M871.41 291.6L871.88 352.8M873.27 322.2L873.73 398.8M875.10 341.8L875.56 339.2M876.91 324.4L877.36 316.1M878.69 415.1L879.13 293.0M880.45 353.5L880.89 311.0M882.19 315.2L882.62 343.5M883.90 305.8L884.32 345.7M885.59 389.8L886.01 325.6M887.26 331.2L887.67 338.8M888.91 342.6L889.32 328.1M890.54 315.0L890.94 313.4M892.15 464.0L892.54 341.5M893.73 318.6L894.13 301.5M895.30 322.5L895.69 358.8M896.86 362.8L897.24 379.8M898.39 385.7L898.77 336.8M899.90 342.5L900.28 375.4M901.40 391.3L901.77 344.7M902.88 352.4L903.25 348.6M904.35 402.7L904.71 336.8M905.80 401.0L906.16 320.9M907.23 318.8L907.59 402.5M908.65 424.4L909.00 318.0M910.05 321.9L910.40 324.4M911.44 323.2L911.78 436.3M912.81 337.8L913.15 397.0M914.17 350.8L914.51 399.1M915.52 596.0L915.85 305.0M916.85 344.1L917.18 326.8M918.16 333.8L918.49 425.8M919.47 362.2L919.79 307.9M920.76 404.2L921.08 340.2M922.04 420.6L922.36 334.0M923.31 341.1L923.62 325.1M924.56 319.0L924.88 312.0M925.81 325.7L926.12 330.2M927.04 339.1L927.34 365.0M928.26 407.3L928.56 426.0M929.47 400.7L929.77 351.2M930.67 427.8L930.96 347.3M931.85 341.0L932.15 450.6M933.03 342.1L933.32 419.1M934.20 450.2L934.49 343.7M935.35 431.0L935.64 347.9M936.50 355.6L936.78 352.4M937.63 351.8L937.92 351.0M938.76 377.8L939.04 435.8M939.88 473.0L940.15 444.5M940.98 347.6L941.26 339.6M942.08 340.8L942.35 339.3M943.17 348.5L943.44 372.5M944.25 431.7L944.52 367.0M945.32 443.3L945.59 365.0M946.38 359.8L946.65 445.1M947.44 353.2L947.70 370.0M948.48 465.0L948.74 490.6M949.52 351.2L949.78 351.2M950.55 361.0L950.80 419.6M951.57 435.9L951.82 395.8M952.58 436.2L952.84 403.3M953.59 420.6L953.84 431.7M954.59 457.5L954.84 402.1M955.58 423.4L955.82 399.4M956.56 386.2L956.80 477.4M957.54 434.4L957.78 377.6M958.50 383.1L958.75 464.9M959.47 397.9L959.71 353.5M960.42 346.5L960.66 346.3M961.37 350.5L961.60 403.9M962.31 357.1L962.54 380.6M963.24 434.2L963.48 347.1M964.17 341.1L964.40 338.3M965.09 334.5L965.32 333.4M966.01 322.6L966.23 328.7M966.91 334.9L967.14 335.8M967.82 355.3L968.04 349.9M968.71 341.9L968.94 432.0M969.60 337.6L969.82 432.9M970.49 340.4L970.71 492.1M971.36 353.8L971.58 449.4M972.24 371.2L972.45 384.8M973.10 396.9L973.32 390.3M973.96 400.2L974.18 400.0M974.82 396.4L975.03 410.0M975.67 413.8L975.88 388.8M976.51 532.0L976.72 433.2M977.35 471.9L977.56 380.6M978.18 377.2L978.39 373.4M979.01 498.9L979.22 367.8M979.84 365.5L980.04 454.8M980.65 356.7L980.86 366.0M981.47 373.2L981.67 477.2M982.27 391.3L982.48 381.3M983.08 473.3L983.28 393.9M983.88 443.4L984.07 394.4M984.67 390.0L984.87 435.0M985.46 441.4L985.65 460.9M986.24 373.6L986.44 371.5M987.02 370.6L987.21 368.7M987.79 363.5L987.99 483.8M988.56 402.9L988.76 356.5M989.33 373.9L989.52 356.4M990.09 433.2L990.28 377.9M990.85 393.2L991.04 522.7M991.60 428.4L991.79 391.8M992.35 386.9L992.53 386.5M993.09 383.8L993.28 468.3M993.83 443.7L994.02 416.3M994.57 472.9L994.75 438.5M995.30 468.8L995.48 380.6M996.03 385.0L996.21 453.3M996.75 387.0L996.93 436.8M997.47 418.8L997.65 391.6M998.18 407.7L998.36 397.6M998.90 483.4L999.07 400.4M999.60 397.2L999.78 435.5M1000.31 408.8L1000.48 450.8M1001.01 388.2L1001.18 391.8M1001.70 435.8L1001.88 445.5M1002.40 387.2L1002.57 387.4M1003.09 384.1L1003.26 384.5M1003.77 382.0L1003.94 381.4M1004.45 379.7L1004.62 383.1M1005.13 385.9L1005.30 387.6M1005.81 387.2L1005.98 411.1M1006.48 446.5L1006.65 393.0M1007.15 396.8L1007.31 517.8M1007.81 445.4L1007.98 404.5M1008.47 406.7L1008.64 453.1M1009.13 405.5L1009.30 456.2M1009.79 464.4L1009.95 549.0M1010.44 486.8L1010.60 404.8M1011.09 402.2L1011.25 463.4M1011.73 409.6L1011.89 458.7M1012.37 471.5L1012.53 384.6M1013.01 375.8L1013.17 456.4M1013.65 372.0L1013.81 365.9M1014.28 411.2L1014.44 504.8M1014.91 386.9L1015.07 389.1M1015.54 391.2L1015.70 428.6M1016.16 390.4L1016.32 412.6M1016.78 387.8L1016.94 466.3M1017.40 606.6L1017.56 378.0M1018.02 595.0L1018.17 582.1M1018.63 385.7L1018.78 384.9M1019.24 387.3L1019.39 389.1M1019.85 472.0L1020.00 505.6M1020.45 396.1L1020.60 399.7M1021.05 396.5L1021.20 402.3M1021.65 398.5L1021.80 456.7M1022.24 501.2L1022.39 647.0M1022.84 400.3L1022.98 395.7M1023.43 396.0L1023.57 492.0M1024.01 596.4L1024.16 393.6M1024.60 507.5L1024.75 396.4M1025.18 399.3L1025.33 420.8M1025.76 402.6L1025.91 522.3M1026.34 402.7L1026.48 523.0M1026.91 451.8L1027.06 405.4M1027.49 412.1L1027.63 409.6M1028.06 413.7L1028.20 541.6M1028.62 415.0L1028.76 413.8M1029.19 407.7L1029.33 411.3M1029.75 409.8L1029.89 431.0M1030.31 589.3L1030.45 406.1M1030.87 401.6L1031.01 518.2M1031.42 402.0L1031.56 432.6M1031.98 445.1L1032.11 549.1M1032.53 574.7L1032.66 395.5M1033.08 391.7L1033.21 480.9M1033.62 388.6L1033.76 391.5M1034.17 571.1L1034.30 395.2M1034.71 396.8L1034.84 402.0M1035.25 424.4L1035.38 562.4M1035.78 405.6L1035.92 523.3M1036.32 603.9L1036.45 414.4M1036.85 464.7L1036.98 414.4M1037.38 486.5L1037.51 417.5M1037.91 590.2L1038.04 420.5M1038.44 438.0L1038.57 421.8M1038.96 512.9L1039.09 424.2M1039.48 624.7L1039.61 606.0M1040.00 420.3L1040.13 430.8M1040.52 416.6L1040.65 443.7M1041.04 503.6L1041.17 448.6M1041.55 448.6L1041.68 601.7M1042.06 464.6L1042.19 409.1M1042.57 408.1L1042.70 475.6M1043.08 403.4L1043.21 580.4M1043.65 425.5L1043.84 582.6M1044.41 417.4L1044.60 410.8M1045.16 473.6L1045.35 467.5M1045.90 562.2L1046.09 557.3M1046.65 504.7L1046.83 448.4M1047.39 549.2L1047.57 444.3M1048.12 440.9L1048.30 519.4M1048.85 452.8L1049.03 435.3M1049.58 596.1L1049.76 432.4M1050.30 430.7L1050.48 430.1M1051.02 429.3L1051.20 467.6M1051.73 592.8L1051.91 467.7M1052.44 432.1L1052.62 625.0M1053.15 613.9L1053.32 436.2M1053.85 439.9L1054.03 495.6M1054.55 511.6L1054.72 527.1M1055.24 524.8L1055.42 450.0M1055.94 453.5L1056.11 630.5M1056.62 454.7L1056.80 484.0M1057.31 441.7L1057.48 451.5M1057.99 561.4L1058.16 482.3M1058.67 403.7L1058.84 542.7M1059.34 594.1L1059.51 412.1M1060.01 417.1L1060.18 416.3M1060.68 421.7L1060.84 462.7M1061.34 484.1L1061.51 427.8M1062.00 429.3L1062.17 429.6M1062.66 433.9L1062.82 435.1M1063.31 440.5L1063.48 549.3M1063.96 481.7L1064.13 496.6M1064.61 607.1L1064.77 466.3M1065.26 447.5L1065.42 576.7M1065.90 431.3L1066.06 687.7M1066.53 461.5L1066.69 413.8M1067.17 404.9L1067.33 399.3M1067.80 540.6L1067.96 586.0M1068.43 464.7L1068.59 563.8M1069.06 421.8L1069.21 422.9M1069.68 427.0L1069.83 613.3M1070.30 430.5L1070.45 592.8M1070.92 583.0L1071.07 439.9M1071.53 444.3L1071.68 466.0M1072.14 473.2L1072.29 480.1M1072.75 489.1L1072.90 440.8M1073.36 442.6L1073.51 503.3M1073.96 568.5L1074.11 522.6M1074.56 462.7L1074.71 432.1M1075.16 426.7L1075.30 428.9M1075.75 427.2L1075.90 619.0M1076.34 425.0L1076.49 482.8M1076.93 428.4L1077.08 670.8M1077.52 631.9L1077.67 709.1M1078.10 505.8L1078.25 434.5M1078.68 557.6L1078.83 440.1M1079.26 443.6L1079.41 445.6M1079.84 444.3L1079.98 564.0M1080.41 450.7L1080.56 589.3M1080.99 482.0L1081.13 453.9M1081.55 459.7L1081.70 586.6M1082.12 579.3L1082.26 581.1M1082.68 459.7L1082.83 692.3M1083.25 678.2L1083.39 448.2M1083.81 445.4L1083.95 445.2M1084.36 438.0L1084.50 670.8M1084.92 429.0L1085.06 639.4M1085.47 453.0L1085.61 468.2M1086.02 637.6L1086.16 603.8M1086.57 463.5L1086.70 437.4M1087.11 435.9L1087.25 549.5M1087.66 714.2L1087.79 437.5M1088.20 488.2L1088.33 440.3M1088.73 442.9L1088.87 442.5M1089.27 442.7L1089.41 444.0M1089.81 487.5L1089.94 612.9M1090.34 517.7L1090.47 531.8M1090.87 476.2L1091.00 446.6M1091.40 451.4L1091.53 450.4M1091.92 454.0L1092.05 627.7M1092.44 572.1L1092.58 500.2M1092.97 452.2L1093.10 683.4M1093.49 534.5L1093.62 454.5M1094.00 447.1L1094.13 499.1M1094.52 559.1L1094.65 662.6M1095.03 724.5L1095.16 437.8M1095.54 434.2L1095.67 440.0M1096.05 440.9L1096.18 518.6M1096.56 439.4L1096.69 552.4M1097.07 442.3L1097.19 466.7M1097.57 629.1L1097.70 444.8M1098.07 446.4L1098.20 563.4M1098.57 485.2L1098.70 535.3M1099.07 623.7L1099.19 451.2M1099.56 725.0L1099.69 686.1M1100.06 727.1L1100.18 454.2M1100.55 456.8L1100.67 636.9M1101.04 611.9L1101.16 670.8M1101.53 459.0L1101.65 460.0M1102.02 464.0L1102.14 624.5M1102.50 608.6L1102.62 464.4M1102.99 463.4L1103.11 469.4M1103.47 465.6L1103.59 508.4M1103.95 503.9L1104.07 459.8M1104.42 452.8L1104.54 480.4M1104.90 706.5L1105.02 569.5M1105.38 697.5L1105.49 518.1M1105.85 617.3L1105.97 510.2M1106.32 583.0L1106.44 436.9M1106.79 442.8L1106.91 462.2M1107.26 443.9L1107.37 501.9M1107.72 448.0L1107.84 725.3M1108.19 447.5L1108.30 488.9M1108.65 452.6L1108.76 752.0M1109.11 454.7L1109.23 748.4M1109.57 462.2L1109.68 476.5M1110.03 597.5L1110.14 639.5M1110.48 487.9L1110.60 697.9M1110.94 483.3L1111.05 707.2M1111.39 468.3L1111.51 551.5M1111.84 590.7L1111.96 453.3M1112.29 503.5L1112.41 438.6M1112.74 463.0L1112.85 438.2M1113.19 577.1L1113.30 444.3M1113.64 447.7L1113.75 444.7M1114.08 449.2L1114.19 570.0M1114.52 527.4L1114.63 455.2M1114.96 461.1L1115.07 633.4M1115.40 461.9L1115.51 461.1M1115.88 505.7L1116.02 461.4M1116.46 720.0L1116.60 660.0M1117.04 495.2L1117.18 637.4M1117.62 722.2L1117.76 443.8M1118.19 538.8L1118.33 437.6M1118.76 430.6L1118.90 434.9M1119.33 444.7L1119.47 513.8M1119.90 528.0L1120.04 463.8M1120.46 619.4L1120.60 480.4M1121.02 481.6L1121.16 477.4M1121.58 472.2L1121.72 545.2M1122.14 467.0L1122.28 501.0M1122.69 527.2L1122.83 463.7M1123.25 489.3L1123.38 459.2M1123.80 653.4L1123.93 452.3M1124.34 451.9L1124.48 681.3M1124.89 611.8L1125.03 444.1M1125.43 444.9L1125.57 540.4M1125.97 435.0L1126.11 706.2M1126.51 592.5L1126.65 582.1M1127.05 627.6L1127.18 709.4M1127.58 593.1L1127.72 455.5M1128.12 504.1L1128.25 461.1M1128.65 736.6L1128.78 484.3M1129.17 496.3L1129.31 471.9M1129.70 473.5L1129.83 475.3M1130.22 479.0L1130.36 482.9M1130.75 482.6L1130.88 559.2M1131.27 491.8L1131.40 489.0M1131.78 482.9L1131.91 502.4M1132.30 546.1L1132.43 502.0M1132.81 510.1L1132.94 707.0M1133.32 754.0L1133.45 458.7M1133.83 451.0L1133.96 452.2M1134.34 715.9L1134.47 455.8M1134.85 457.9L1134.97 569.1M1135.35 463.4L1135.48 462.0M1135.85 514.6L1135.98 637.1M1136.35 660.8L1136.48 470.8M1136.85 533.6L1136.97 473.1M1137.35 471.1L1137.47 694.0M1137.84 473.8L1137.96 713.7M1138.33 538.7L1138.46 482.2M1138.82 523.2L1138.95 479.4M1139.31 533.3L1139.43 476.6M1139.80 473.4L1139.92 655.4M1140.28 468.8L1140.41 735.5M1140.77 635.1L1140.89 540.3M1141.25 482.3L1141.37 455.0M1141.73 464.6L1141.85 610.7M1142.21 553.3L1142.33 466.1M1142.68 470.0L1142.80 695.5M1143.16 652.6L1143.28 473.8M1143.63 479.2L1143.75 491.0M1144.10 482.9L1144.22 480.2M1144.57 477.0L1144.69 476.4M1145.04 565.3L1145.16 502.6M1145.51 468.6L1145.62 467.1M1145.97 463.6L1146.09 461.8M1146.43 455.6L1146.55 452.6M1146.90 448.0L1147.01 575.6M1147.36 511.2L1147.47 462.5M1147.81 473.9L1147.93 699.2M1148.27 534.5L1148.38 576.3M1148.72 496.0L1148.84 502.9M1149.18 501.3L1149.29 544.1M1149.63 526.4L1149.74 494.8M1150.08 537.9L1150.19 493.2M1150.53 490.7L1150.64 568.1M1150.98 642.4L1151.09 505.7M1151.42 524.2L1151.53 620.4M1151.87 692.7L1151.98 506.0M1152.31 499.7L1152.42 484.5M1152.75 497.7L1152.86 481.0M1153.19 477.5L1153.30 543.5M1153.63 474.7L1153.74 474.8M1154.06 476.3L1154.17 473.3M1154.50 486.9L1154.61 563.3M1154.93 641.8L1155.04 590.9M1155.37 719.0L1155.47 484.1M1155.80 501.1L1155.90 486.1M1156.23 613.3L1156.33 557.6M1156.66 590.8L1156.76 488.0M1157.08 481.2L1157.19 478.3M1157.51 472.9L1157.61 472.9M1157.93 484.5L1158.04 463.1M1158.35 452.3L1158.46 455.3M1158.78 447.6L1158.88 444.4M1159.20 554.5L1159.30 450.8M1159.61 457.7L1159.72 463.9M1160.03 476.7L1160.14 481.8M1160.45 490.5L1160.55 640.2M1160.86 566.3L1160.97 492.5M1161.28 730.8L1161.38 486.1M1161.69 486.2L1161.79 495.6M1162.10 615.2L1162.20 621.7M1162.51 572.8L1162.61 478.4M1162.92 653.6L1163.02 474.9M1163.32 661.8L1163.43 473.3M1163.73 561.3L1163.83 470.2M1164.13 472.9L1164.24 491.9M1164.54 731.0L1164.64 478.7M1164.94 556.1L1165.04 478.2M1165.34 585.1L1165.44 483.4M1165.74 529.6L1165.84 485.9M1166.14 495.7L1166.24 486.8M1166.54 647.8L1166.64 474.7M1166.93 467.1L1167.03 522.6M1167.33 463.0L1167.43 514.3M1167.72 454.0L1167.82 448.8M1168.11 458.2L1168.21 458.0M1168.50 883.0L1168.60 464.1M1168.89 636.4L1168.99 548.7M1169.28 564.2L1169.38 754.3M1169.67 740.0L1169.77 476.6M1170.06 479.1L1170.15 650.4M1170.44 648.9L1170.54 485.3M1170.83 483.7L1170.92 483.1M1171.21 488.7L1171.31 487.4M1171.59 487.0L1171.69 658.8M1171.97 548.1L1172.07 492.4M1172.35 581.9L1172.45 492.4M1172.73 495.4L1172.83 648.0M1173.11 515.7L1173.21 497.1M1173.49 527.4L1173.58 489.5M1173.86 488.6L1173.96 561.0M1174.24 489.6L1174.33 745.7M1174.61 483.6L1174.70 513.4M1174.98 482.3L1175.08 606.5M1175.36 480.8L1175.45 755.4M1175.73 620.3L1175.82 473.6M1176.10 472.0L1176.19 493.2M1176.46 568.6L1176.56 560.7M1176.83 512.9L1176.92 478.2M1177.20 485.7L1177.29 485.9M1177.56 483.4L1177.65 608.4M1177.93 489.7L1178.02 514.6M1178.29 741.7L1178.38 495.4M1178.65 495.1L1178.74 495.5M1179.01 493.3L1179.10 558.0M1179.37 770.5L1179.46 538.4M1179.73 488.3L1179.82 485.2M1180.09 751.1L1180.18 506.1M1180.45 743.0L1180.54 721.9M1180.80 610.8L1180.89 481.3M1181.16 474.8L1181.25 523.3M1181.51 473.4L1181.60 590.7M1181.87 474.5L1181.96 596.9M1182.22 468.1L1182.31 615.8M1182.57 469.5L1182.66 469.1M1182.92 468.0L1183.01 563.4M1183.27 466.3L1183.36 549.6M1183.62 506.1L1183.71 629.9M1183.97 529.9L1184.05 492.0M1184.31 460.8L1184.40 463.1M1184.66 462.6L1184.75 488.6M1185.01 457.8L1185.09 618.8M1185.35 759.7L1185.44 513.1M1185.69 453.9L1185.78 619.1M1186.04 458.0L1186.12 463.5M1186.38 557.4L1186.46 464.3M1186.72 467.3L1186.80 648.4M1187.06 553.1L1187.14 467.9M1187.40 474.1L1187.48 476.0M1187.73 476.3L1187.82 477.2M1188.07 480.3L1188.16 644.2M1188.41 479.8L1188.49 728.2M1188.74 486.0L1188.83 571.7M1189.08 483.9L1189.16 628.4M1189.41 488.4L1189.49 488.6M1189.74 685.2L1189.83 730.0M1190.08 693.1L1190.16 491.1M1190.41 554.5L1190.49 531.0M1190.74 518.4L1190.82 495.7M1191.07 491.2L1191.15 553.6M1191.40 741.6L1191.48 511.0M1191.72 522.0L1191.81 813.8M1192.05 505.7L1192.13 485.9M1192.38 481.1L1192.46 480.8M1192.70 479.6L1192.78 557.7M1193.03 486.1L1193.11 558.2M1193.35 472.5L1193.43 516.4M1193.67 637.4L1193.75 472.0M1194.00 471.2L1194.08 828.4M1194.32 510.8L1194.40 470.4M1194.64 466.8L1194.72 657.8M1194.96 523.6L1195.04 585.4M1195.28 665.1L1195.36 467.2M1195.60 826.0L1195.68 465.1M1195.91 464.9L1195.99 461.7M1196.23 519.6L1196.31 464.6M1196.55 460.3L1196.63 461.9M1196.86 467.4L1196.94 465.8M1197.18 465.8L1197.25 677.1M1197.49 833.3L1197.57 473.5M1197.80 474.5L1197.88 473.4M1198.12 530.7L1198.19 615.1M1198.43 483.5L1198.50 478.5M1198.74 485.0L1198.82 506.2M1199.05 478.9L1199.13 604.6M1199.36 550.7L1199.43 739.3M1199.67 479.5L1199.74 853.7M1199.97 475.8L1200.05 640.5M1200.28 715.8L1200.36 597.1M1200.59 536.8L1200.66 582.1M1200.89 774.6L1200.97 532.1M1201.20 567.6L1201.27 468.4M1201.50 652.7L1201.58 466.5M1201.81 497.5L1201.88 464.4M1202.11 464.8L1202.18 634.6M1202.41 460.7L1202.49 549.8M1202.71 777.0L1202.79 470.1M1203.01 536.7L1203.09 457.2M1203.31 463.2L1203.39 740.5M1203.61 464.0L1203.69 597.2M1203.91 467.7L1203.99 685.9M1204.21 475.5L1204.28 509.9M1204.51 524.6L1204.58 483.3M1204.80 484.8L1204.88 764.6M1205.10 487.5L1205.17 740.2M1205.40 491.1L1205.47 533.1M1205.69 498.9L1205.76 792.2M1205.98 501.5L1206.06 760.3M1206.28 800.8L1206.35 492.7M1206.57 632.5L1206.64 485.5M1206.86 478.8L1206.94 568.6M1207.15 519.5L1207.23 467.0M1207.45 573.7L1207.52 459.2M1207.74 460.9L1207.81 493.4M1208.03 468.3L1208.10 583.1M1208.31 838.1L1208.39 473.2M1208.60 475.1L1208.67 506.1M1208.89 548.4L1208.96 549.4M1209.18 484.1L1209.25 487.4M1209.46 581.3L1209.54 556.3M1209.75 541.3L1209.82 494.7M1210.04 497.7L1210.11 499.3M1210.32 619.1L1210.39 703.1M1210.60 520.3L1210.67 524.0M1210.89 649.1L1210.96 484.7M1211.17 480.5L1211.24 480.4M1211.45 479.2L1211.52 480.8M1211.73 474.9L1211.80 624.1M1212.01 475.3L1212.08 685.4M1212.29 471.2L1212.36 614.0M1212.57 502.8L1212.64 468.5M1212.85 467.7L1212.92 467.8M1213.13 466.9L1213.20 830.8M1213.41 466.3L1213.48 537.3M1213.69 459.2L1213.76 831.6M1213.96 456.8L1214.03 544.9M1214.24 579.7L1214.31 616.8M1214.52 635.6L1214.58 468.3M1214.79 472.9L1214.86 472.3M1215.07 475.5L1215.13 837.0M1215.34 855.7L1215.41 481.2M1215.61 482.6L1215.68 602.0M1215.89 510.3L1215.95 531.8M1216.16 811.7L1216.23 754.7M1216.43 707.9L1216.50 485.0M1216.70 543.6L1216.77 482.7M1216.97 484.9L1217.04 479.6M1217.24 482.9L1217.31 482.0M1217.51 554.3L1217.58 481.7M1217.78 477.2L1217.85 687.2M1218.05 792.8L1218.11 476.8M1218.32 475.0L1218.38 478.1M1218.58 474.7L1218.65 728.1M1218.85 534.6L1218.92 474.3M1219.12 626.0L1219.18 475.7M1219.38 476.2L1219.45 838.2M1219.65 476.0L1219.71 531.2M1219.91 477.4L1219.98 617.6M1220.17 511.2L1220.24 478.0M1220.44 490.3L1220.50 851.8"/><path d="M365.68 289.0L403.50 221.0M477.08 122.5L494.63 214.0M536.50 227.0L547.94 218.0M577.28 160.0L585.77 125.0M608.36 130.0L615.10 158.0M633.48 217.0L639.07 243.0M654.56 123.0L659.34 198.0M672.72 149.0L676.90 164.0M688.68 156.0L692.38 225.0M702.91 192.5L706.23 330.0M715.74 270.0L718.77 351.5M727.44 215.0L730.21 250.0M738.18 175.5L740.73 273.0M748.10 313.0L750.47 192.5M757.33 231.0L759.54 390.0M765.96 310.0L768.03 218.0M774.05 293.0L776.00 322.0M781.68 268.0L783.51 282.0M788.88 216.6L790.62 526.0M795.71 300.0L797.37 340.0M802.21 350.0L803.78 322.0M808.40 290.0L809.90 221.0M814.31 262.0L815.74 330.0M819.96 300.0L820.65 331.8M822.70 367.5L823.38 380.6M825.38 245.4L826.05 255.2M828.01 283.4L828.66 290.6M830.59 277.0L831.23 319.1M833.12 359.2L833.74 279.1M835.60 311.1L836.21 327.0M838.03 296.4L838.64 285.2M840.43 295.2L841.02 361.9M842.77 370.6L843.35 357.6M845.08 311.8L845.65 306.1M847.35 291.7L847.91 313.7M849.58 285.1L850.13 263.7M851.77 321.0L852.31 282.4M853.92 269.6L854.46 502.0M856.04 348.8L856.57 320.8M858.13 314.3L858.65 313.1M860.18 470.7L860.69 308.3M862.21 272.4L862.71 284.4M864.20 298.9L864.69 308.3M866.16 323.9L866.65 405.7M868.09 313.9L868.57 339.7M870.00 365.8L870.47 298.8M871.88 352.8L872.34 305.5M873.73 398.8L874.19 333.4M875.56 339.2L876.01 358.1M877.36 316.1L877.80 383.3M879.13 293.0L879.57 298.9M880.89 311.0L881.32 383.3M882.62 343.5L883.05 333.4M884.32 345.7L884.75 315.2M886.01 325.6L886.43 368.3M887.67 338.8L888.09 400.0M889.32 328.1L889.73 364.2M890.94 313.4L891.34 411.3M892.54 341.5L892.94 292.1M894.13 301.5L894.52 307.5M895.69 358.8L896.08 363.0M897.24 379.8L897.62 349.8M898.77 336.8L899.15 383.5M900.28 375.4L900.66 322.6M901.77 344.7L902.15 331.2M903.25 348.6L903.62 345.8M904.71 336.8L905.08 345.8M906.16 320.9L906.52 321.7M907.59 402.5L907.94 361.6M909.00 318.0L909.35 351.9M910.40 324.4L910.75 352.9M911.78 436.3L912.13 322.5M913.15 397.0L913.49 317.8M914.51 399.1L914.84 312.0M915.85 305.0L916.18 311.2M917.18 326.8L917.51 331.3M918.49 425.8L918.82 372.8M919.79 307.9L920.12 314.2M921.08 340.2L921.40 532.0M922.36 334.0L922.68 364.2M923.62 325.1L923.94 378.5M924.88 312.0L925.19 316.6M926.12 330.2L926.42 415.4M927.34 365.0L927.65 379.6M928.56 426.0L928.86 354.5M929.77 351.2L930.07 351.7M930.96 347.3L931.26 341.1M932.15 450.6L932.44 334.7M933.32 419.1L933.61 341.6M934.49 343.7L934.77 349.0M935.64 347.9L935.93 349.3M936.78 352.4L937.07 398.7M937.92 351.0L938.20 435.8M939.04 435.8L939.32 346.7M940.15 444.5L940.43 340.5M941.26 339.6L941.53 333.7M942.35 339.3L942.63 355.4M943.44 372.5L943.71 357.0M944.52 367.0L944.79 578.0M945.59 365.0L945.85 377.3M946.65 445.1L946.91 354.8M947.70 370.0L947.96 576.0M948.74 490.6L949.00 339.6M949.78 351.2L950.04 474.4M950.80 419.6L951.06 365.6M951.82 395.8L952.08 376.9M952.84 403.3L953.09 387.1M953.84 431.7L954.09 396.0M954.84 402.1L955.08 407.5M955.82 399.4L956.07 404.4M956.80 477.4L957.05 381.5M957.78 377.6L958.02 446.7M958.75 464.9L958.99 359.0M959.71 353.5L959.94 410.2M960.66 346.3L960.90 388.4M961.60 403.9L961.84 393.8M962.54 380.6L962.78 356.7M963.48 347.1L963.71 345.4M964.40 338.3L964.63 451.8M965.32 333.4L965.55 426.9M966.23 328.7L966.46 456.9M967.14 335.8L967.37 495.3M968.04 349.9L968.27 378.4M968.94 432.0L969.16 358.4M969.82 432.9L970.04 485.1M970.71 492.1L970.93 350.9M971.58 449.4L971.80 364.0M972.45 384.8L972.67 405.0M973.32 390.3L973.53 436.7M974.18 400.0L974.39 464.7M975.03 410.0L975.24 391.4M975.88 388.8L976.09 389.8M976.72 433.2L976.93 379.6M977.56 380.6L977.77 376.8M978.39 373.4L978.60 398.5M979.22 367.8L979.42 411.7M980.04 454.8L980.25 389.5M980.86 366.0L981.06 559.0M981.67 477.2L981.87 375.7M982.48 381.3L982.68 385.2M983.28 393.9L983.48 429.6M984.07 394.4L984.27 425.1M984.87 435.0L985.06 383.7M985.65 460.9L985.85 380.0M986.44 371.5L986.63 488.0M987.21 368.7L987.41 429.1M987.99 483.8L988.18 360.6M988.76 356.5L988.95 355.2M989.52 356.4L989.71 379.5M990.28 377.9L990.47 367.8M991.04 522.7L991.22 382.8M991.79 391.8L991.97 392.8M992.53 386.5L992.72 401.1M993.28 468.3L993.46 381.4M994.02 416.3L994.20 376.2M994.75 438.5L994.93 381.4M995.48 380.6L995.66 405.7M996.21 453.3L996.39 390.2M996.93 436.8L997.11 389.2M997.65 391.6L997.83 471.2M998.36 397.6L998.54 433.1M999.07 400.4L999.25 573.0M999.78 435.5L999.96 392.7M1000.48 450.8L1000.66 391.1M1001.18 391.8L1001.36 431.0M1001.88 445.5L1002.05 386.2M1002.57 387.4L1002.74 468.0M1003.26 384.5L1003.43 460.0M1003.94 381.4L1004.11 481.5M1004.62 383.1L1004.79 462.9M1005.30 387.6L1005.47 443.7M1005.98 411.1L1006.14 424.5M1006.65 393.0L1006.81 394.5M1007.31 517.8L1007.48 401.3M1007.98 404.5L1008.14 436.9M1008.64 453.1L1008.80 528.0M1009.30 456.2L1009.46 407.9M1009.95 549.0L1010.11 413.4M1010.60 404.8L1010.76 406.1M1011.25 463.4L1011.41 488.5M1011.89 458.7L1012.05 387.4M1012.53 384.6L1012.69 396.0M1013.17 456.4L1013.33 550.0M1013.81 365.9L1013.97 494.0M1014.44 504.8L1014.60 379.0M1015.07 389.1L1015.23 418.8M1015.70 428.6L1015.85 562.7M1016.32 412.6L1016.47 517.1M1016.94 466.3L1017.09 386.9M1017.56 378.0L1017.71 513.2M1018.17 582.1L1018.32 387.5M1018.78 384.9L1018.93 452.7M1019.39 389.1L1019.54 403.0M1020.00 505.6L1020.15 393.0M1020.60 399.7L1020.75 563.6M1021.20 402.3L1021.35 485.9M1021.80 456.7L1021.95 578.6M1022.39 647.0L1022.54 397.4M1022.98 395.7L1023.13 436.9M1023.57 492.0L1023.72 396.9M1024.16 393.6L1024.31 400.0M1024.75 396.4L1024.89 397.5M1025.33 420.8L1025.47 546.5M1025.91 522.3L1026.05 525.6M1026.48 523.0L1026.63 404.5M1027.06 405.4L1027.20 410.2M1027.63 409.6L1027.77 500.7M1028.20 541.6L1028.34 414.8M1028.76 413.8L1028.91 439.3M1029.33 411.3L1029.47 516.2M1029.89 431.0L1030.03 597.2M1030.45 406.1L1030.59 563.0M1031.01 518.2L1031.15 512.1M1031.56 432.6L1031.70 477.7M1032.11 549.1L1032.25 399.2M1032.66 395.5L1032.80 564.2M1033.21 480.9L1033.35 518.6M1033.76 391.5L1033.89 417.5M1034.30 395.2L1034.44 398.9M1034.84 402.0L1034.98 432.8M1035.38 562.4L1035.52 404.6M1035.92 523.3L1036.05 464.5M1036.45 414.4L1036.59 415.2M1036.98 414.4L1037.12 476.5M1037.51 417.5L1037.65 422.4M1038.04 420.5L1038.17 426.0M1038.57 421.8L1038.70 565.5M1039.09 424.2L1039.22 423.9M1039.61 606.0L1039.74 525.2M1040.13 430.8L1040.26 522.9M1040.65 443.7L1040.78 416.9M1041.17 448.6L1041.30 410.0M1041.68 601.7L1041.81 409.3M1042.19 409.1L1042.32 532.0M1042.70 475.6L1042.83 514.1M1043.21 580.4L1043.34 401.6M1043.84 582.6L1044.03 401.5M1044.60 410.8L1044.78 497.7M1045.35 467.5L1045.53 439.9M1046.09 557.3L1046.28 446.3M1046.83 448.4L1047.02 447.9M1047.57 444.3L1047.75 441.0M1048.30 519.4L1048.49 553.8M1049.03 435.3L1049.21 436.1M1049.76 432.4L1049.94 523.7M1050.48 430.1L1050.66 627.5M1051.20 467.6L1051.37 425.0M1051.91 467.7L1052.09 430.0M1052.62 625.0L1052.79 435.3M1053.32 436.2L1053.50 438.5M1054.03 495.6L1054.20 445.0M1054.72 527.1L1054.90 448.1M1055.42 450.0L1055.59 480.6M1056.11 630.5L1056.28 455.7M1056.80 484.0L1056.97 450.9M1057.48 451.5L1057.65 632.9M1058.16 482.3L1058.33 415.8M1058.84 542.7L1059.00 406.1M1059.51 412.1L1059.68 411.7M1060.18 416.3L1060.35 560.8M1060.84 462.7L1061.01 630.3M1061.51 427.8L1061.67 428.2M1062.17 429.6L1062.33 505.2M1062.82 435.1L1062.99 615.7M1063.48 549.3L1063.64 443.3M1064.13 496.6L1064.29 449.2M1064.77 466.3L1064.93 452.2M1065.42 576.7L1065.58 661.1M1066.06 687.7L1066.22 424.8M1066.69 413.8L1066.85 581.9M1067.33 399.3L1067.49 462.7M1067.96 586.0L1068.12 411.6M1068.59 563.8L1068.74 419.1M1069.21 422.9L1069.37 693.6M1069.83 613.3L1069.99 529.6M1070.45 592.8L1070.61 434.2M1071.07 439.9L1071.22 617.5M1071.68 466.0L1071.84 445.2M1072.29 480.1L1072.45 446.8M1072.90 440.8L1073.05 442.6M1073.51 503.3L1073.66 501.5M1074.11 522.6L1074.26 433.1M1074.71 432.1L1074.86 431.4M1075.30 428.9L1075.45 624.7M1075.90 619.0L1076.05 689.8M1076.49 482.8L1076.64 443.5M1077.08 670.8L1077.23 429.1M1077.67 709.1L1077.81 434.4M1078.25 434.5L1078.39 436.5M1078.83 440.1L1078.97 440.4M1079.41 445.6L1079.55 532.9M1079.98 564.0L1080.13 505.7M1080.56 589.3L1080.70 451.8M1081.13 453.9L1081.27 663.8M1081.70 586.6L1081.84 637.2M1082.26 581.1L1082.40 463.0M1082.83 692.3L1082.97 455.4M1083.39 448.2L1083.53 449.0M1083.95 445.2L1084.08 550.5M1084.50 670.8L1084.64 435.3M1085.06 639.4L1085.19 434.8M1085.61 468.2L1085.74 433.7M1086.16 603.8L1086.29 436.3M1086.70 437.4L1086.84 563.5M1087.25 549.5L1087.38 441.6M1087.79 437.5L1087.93 438.0M1088.33 440.3L1088.47 440.6M1088.87 442.5L1089.00 569.2M1089.41 444.0L1089.54 585.0M1089.94 612.9L1090.07 448.0M1090.47 531.8L1090.60 448.8M1091.00 446.6L1091.13 467.3M1091.53 450.4L1091.66 538.6M1092.05 627.7L1092.18 449.0M1092.58 500.2L1092.71 453.8M1093.10 683.4L1093.23 454.1M1093.62 454.5L1093.74 487.7M1094.13 499.1L1094.26 567.7M1094.65 662.6L1094.78 442.5M1095.16 437.8L1095.29 437.8M1095.67 440.0L1095.80 464.8M1096.18 518.6L1096.31 479.9M1096.69 552.4L1096.81 444.5M1097.19 466.7L1097.32 441.6M1097.70 444.8L1097.82 497.0M1098.20 563.4L1098.32 448.3M1098.70 535.3L1098.82 452.6M1099.19 451.2L1099.32 535.6M1099.69 686.1L1099.81 452.3M1100.18 454.2L1100.31 604.9M1100.67 636.9L1100.80 458.4M1101.16 670.8L1101.29 458.0M1101.65 460.0L1101.77 509.6M1102.14 624.5L1102.26 464.7M1102.62 464.4L1102.74 467.1M1103.11 469.4L1103.23 546.5M1103.59 508.4L1103.71 462.2M1104.07 459.8L1104.19 457.2M1104.54 480.4L1104.66 609.3M1105.02 569.5L1105.14 450.3M1105.49 518.1L1105.61 440.4M1105.97 510.2L1106.08 437.9M1106.44 436.9L1106.55 439.0M1106.91 462.2L1107.02 508.0M1107.37 501.9L1107.49 445.9M1107.84 725.3L1107.95 598.2M1108.30 488.9L1108.42 743.5M1108.76 752.0L1108.88 669.1M1109.23 748.4L1109.34 503.0M1109.68 476.5L1109.80 472.5M1110.14 639.5L1110.26 482.8M1110.60 697.9L1110.71 604.3M1111.05 707.2L1111.17 471.8M1111.51 551.5L1111.62 462.1M1111.96 453.3L1112.07 444.9M1112.41 438.6L1112.52 431.3M1112.85 438.2L1112.97 441.6M1113.30 444.3L1113.41 441.6M1113.75 444.7L1113.86 468.3M1114.19 570.0L1114.30 456.1M1114.63 455.2L1114.74 506.5M1115.07 633.4L1115.18 904.5M1115.51 461.1L1115.59 758.6M1116.02 461.4L1116.17 519.3M1116.60 660.0L1116.75 451.8M1117.18 637.4L1117.33 444.6M1117.76 443.8L1117.90 441.6M1118.33 437.6L1118.48 632.1M1118.90 434.9L1119.05 577.6M1119.47 513.8L1119.61 452.7M1120.04 463.8L1120.18 479.0M1120.60 480.4L1120.74 483.9M1121.16 477.4L1121.30 515.5M1121.72 545.2L1121.86 469.5M1122.28 501.0L1122.42 468.3M1122.83 463.7L1122.97 463.9M1123.38 459.2L1123.52 461.1M1123.93 452.3L1124.07 451.7M1124.48 681.3L1124.62 450.0M1125.03 444.1L1125.16 537.7M1125.57 540.4L1125.70 441.2M1126.11 706.2L1126.24 443.0M1126.65 582.1L1126.78 445.0M1127.18 709.4L1127.32 451.0M1127.72 455.5L1127.85 628.0M1128.25 461.1L1128.38 522.6M1128.78 484.3L1128.91 466.6M1129.31 471.9L1129.44 470.0M1129.83 475.3L1129.96 568.9M1130.36 482.9L1130.49 502.2M1130.88 559.2L1131.01 488.0M1131.40 489.0L1131.52 720.7M1131.91 502.4L1132.04 478.1M1132.43 502.0L1132.56 476.0M1132.94 707.0L1133.07 467.9M1133.45 458.7L1133.58 521.2M1133.96 452.2L1134.09 455.0M1134.47 455.8L1134.59 468.6M1134.97 569.1L1135.10 458.2M1135.48 462.0L1135.60 715.1M1135.98 637.1L1136.10 466.2M1136.48 470.8L1136.60 469.1M1136.97 473.1L1137.10 540.9M1137.47 694.0L1137.59 712.5M1137.96 713.7L1138.09 476.2M1138.46 482.2L1138.58 479.6M1138.95 479.4L1139.07 479.8M1139.43 476.6L1139.56 495.1M1139.92 655.4L1140.04 496.6M1140.41 735.5L1140.53 581.1M1140.89 540.3L1141.01 459.3M1141.37 455.0L1141.49 605.3M1141.85 610.7L1141.97 473.9M1142.33 466.1L1142.45 543.9M1142.80 695.5L1142.92 472.4M1143.28 473.8L1143.40 682.9M1143.75 491.0L1143.87 484.6M1144.22 480.2L1144.34 616.3M1144.69 476.4L1144.81 636.2M1145.16 502.6L1145.27 466.2M1145.62 467.1L1145.74 634.6M1146.09 461.8L1146.20 615.6M1146.55 452.6L1146.66 669.9M1147.01 575.6L1147.13 454.8M1147.47 462.5L1147.58 492.2M1147.93 699.2L1148.04 653.1M1148.38 576.3L1148.50 491.0M1148.84 502.9L1148.95 690.0M1149.29 544.1L1149.40 510.0M1149.74 494.8L1149.86 726.0M1150.19 493.2L1150.30 493.9M1150.64 568.1L1150.75 490.9M1151.09 505.7L1151.20 489.3M1151.53 620.4L1151.64 486.8M1151.98 506.0L1152.09 484.1M1152.42 484.5L1152.53 478.8M1152.86 481.0L1152.97 476.3M1153.30 543.5L1153.41 474.5M1153.74 474.8L1153.85 537.6M1154.17 473.3L1154.28 721.4M1154.61 563.3L1154.72 475.1M1155.04 590.9L1155.15 483.2M1155.47 484.1L1155.58 484.2M1155.90 486.1L1156.01 587.0M1156.33 557.6L1156.44 486.7M1156.76 488.0L1156.87 485.3M1157.19 478.3L1157.29 520.8M1157.61 472.9L1157.72 492.4M1158.04 463.1L1158.14 554.3M1158.46 455.3L1158.57 596.3M1158.88 444.4L1158.99 485.0M1159.30 450.8L1159.41 534.1M1159.72 463.9L1159.82 622.7M1160.14 481.8L1160.24 507.2M1160.55 640.2L1160.66 495.7M1160.97 492.5L1161.07 489.2M1161.38 486.1L1161.48 922.0M1161.79 495.6L1161.89 549.1M1162.20 621.7L1162.30 481.0M1162.61 478.4L1162.71 478.2M1163.02 474.9L1163.12 474.4M1163.43 473.3L1163.53 473.5M1163.83 470.2L1163.93 775.9M1164.24 491.9L1164.34 484.7M1164.64 478.7L1164.74 478.7M1165.04 478.2L1165.14 483.9M1165.44 483.4L1165.54 487.6M1165.84 485.9L1165.94 489.1M1166.24 486.8L1166.34 479.6M1166.64 474.7L1166.73 571.2M1167.03 522.6L1167.13 464.2M1167.43 514.3L1167.52 771.2M1167.82 448.8L1167.92 452.0M1168.21 458.0L1168.31 648.2M1168.60 464.1L1168.70 588.1M1168.99 548.7L1169.09 467.9M1169.38 754.3L1169.48 475.7M1169.77 476.6L1169.86 572.6M1170.15 650.4L1170.25 481.5M1170.54 485.3L1170.64 486.4M1170.92 483.1L1171.02 506.9M1171.31 487.4L1171.40 501.0M1171.69 658.8L1171.78 489.6M1172.07 492.4L1172.16 493.5M1172.45 492.4L1172.54 492.3M1172.83 648.0L1172.92 496.7M1173.21 497.1L1173.30 493.7M1173.58 489.5L1173.68 493.8M1173.96 561.0L1174.05 576.7M1174.33 745.7L1174.42 515.8M1174.70 513.4L1174.80 609.5M1175.08 606.5L1175.17 520.0M1175.45 755.4L1175.54 475.1M1175.82 473.6L1175.91 665.4M1176.19 493.2L1176.28 549.3M1176.56 560.7L1176.65 480.8M1176.92 478.2L1177.01 599.9M1177.29 485.9L1177.38 571.2M1177.65 608.4L1177.74 724.7M1178.02 514.6L1178.11 489.8M1178.38 495.4L1178.47 586.1M1178.74 495.5L1178.83 513.5M1179.10 558.0L1179.19 731.3M1179.46 538.4L1179.55 491.5M1179.82 485.2L1179.91 583.6M1180.18 506.1L1180.27 483.6M1180.54 721.9L1180.63 479.8M1180.89 481.3L1180.98 477.4M1181.25 523.3L1181.34 705.5M1181.60 590.7L1181.69 495.0M1181.96 596.9L1182.04 562.5M1182.31 615.8L1182.40 467.0M1182.66 469.1L1182.75 631.8M1183.01 563.4L1183.10 523.2M1183.36 549.6L1183.45 628.0M1183.71 629.9L1183.79 465.9M1184.05 492.0L1184.14 460.3M1184.40 463.1L1184.49 531.3M1184.75 488.6L1184.83 686.9M1185.09 618.8L1185.18 664.4M1185.44 513.1L1185.52 460.1M1185.78 619.1L1185.86 458.0M1186.12 463.5L1186.21 664.3M1186.46 464.3L1186.55 490.7M1186.80 648.4L1186.89 469.0M1187.14 467.9L1187.23 469.4M1187.48 476.0L1187.57 517.1M1187.82 477.2L1187.90 497.7M1188.16 644.2L1188.24 477.7M1188.49 728.2L1188.58 590.8M1188.83 571.7L1188.91 483.2M1189.16 628.4L1189.24 484.0M1189.49 488.6L1189.58 745.8M1189.83 730.0L1189.91 489.1M1190.16 491.1L1190.24 621.8M1190.49 531.0L1190.57 497.1M1190.82 495.7L1190.90 530.3M1191.15 553.6L1191.23 492.6M1191.48 511.0L1191.56 490.4M1191.81 813.8L1191.89 485.8M1192.13 485.9L1192.21 688.2M1192.46 480.8L1192.54 779.7M1192.78 557.7L1192.87 476.4M1193.11 558.2L1193.19 475.4M1193.43 516.4L1193.51 471.7M1193.75 472.0L1193.84 552.1M1194.08 828.4L1194.16 498.1M1194.40 470.4L1194.48 550.4M1194.72 657.8L1194.80 470.6M1195.04 585.4L1195.12 466.3M1195.36 467.2L1195.44 464.8M1195.68 465.1L1195.75 465.8M1195.99 461.7L1196.07 574.7M1196.31 464.6L1196.39 461.3M1196.63 461.9L1196.70 750.3M1196.94 465.8L1197.02 651.3M1197.25 677.1L1197.33 512.2M1197.57 473.5L1197.65 573.8M1197.88 473.4L1197.96 742.7M1198.19 615.1L1198.27 480.3M1198.50 478.5L1198.58 549.1M1198.82 506.2L1198.89 584.7M1199.13 604.6L1199.20 819.4M1199.43 739.3L1199.51 476.6M1199.74 853.7L1199.82 660.1M1200.05 640.5L1200.13 476.4M1200.36 597.1L1200.43 474.4M1200.66 582.1L1200.74 469.0M1200.97 532.1L1201.05 471.8M1201.27 468.4L1201.35 465.8M1201.58 466.5L1201.65 465.1M1201.88 464.4L1201.96 631.2M1202.18 634.6L1202.26 502.4M1202.49 549.8L1202.56 492.0M1202.79 470.1L1202.86 458.0M1203.09 457.2L1203.16 456.0M1203.39 740.5L1203.46 772.5M1203.69 597.2L1203.76 613.7M1203.99 685.9L1204.06 733.2M1204.28 509.9L1204.36 649.1M1204.58 483.3L1204.66 582.4M1204.88 764.6L1204.95 556.1M1205.17 740.2L1205.25 490.1M1205.47 533.1L1205.54 504.7M1205.76 792.2L1205.84 781.2M1206.06 760.3L1206.13 498.9M1206.35 492.7L1206.42 691.2M1206.64 485.5L1206.72 611.0M1206.94 568.6L1207.01 477.5M1207.23 467.0L1207.30 464.0M1207.52 459.2L1207.59 455.3M1207.81 493.4L1207.88 486.9M1208.10 583.1L1208.17 685.3M1208.39 473.2L1208.46 470.7M1208.67 506.1L1208.75 639.5M1208.96 549.4L1209.03 480.7M1209.25 487.4L1209.32 606.3M1209.54 556.3L1209.61 493.9M1209.82 494.7L1209.89 626.9M1210.11 499.3L1210.18 693.2M1210.39 703.1L1210.46 494.6M1210.67 524.0L1210.75 486.4M1210.96 484.7L1211.03 555.7M1211.24 480.4L1211.31 822.1M1211.52 480.8L1211.59 512.3M1211.80 624.1L1211.87 492.1M1212.08 685.4L1212.15 727.2M1212.36 614.0L1212.43 468.3M1212.64 468.5L1212.71 468.7M1212.92 467.8L1212.99 618.9M1213.20 830.8L1213.27 505.5M1213.48 537.3L1213.55 562.5M1213.76 831.6L1213.83 459.4M1214.03 544.9L1214.10 459.8M1214.31 616.8L1214.38 463.9M1214.58 468.3L1214.65 609.7M1214.86 472.3L1214.93 604.6M1215.13 837.0L1215.20 475.8M1215.41 481.2L1215.48 480.0M1215.68 602.0L1215.75 483.2M1215.95 531.8L1216.02 488.0M1216.23 754.7L1216.29 484.6M1216.50 485.0L1216.57 483.7M1216.77 482.7L1216.84 565.5M1217.04 479.6L1217.11 519.5M1217.31 482.0L1217.38 550.9M1217.58 481.7L1217.64 642.7M1217.85 687.2L1217.91 479.7M1218.11 476.8L1218.18 473.5M1218.38 478.1L1218.45 541.1M1218.65 728.1L1218.72 513.9M1218.92 474.3L1218.98 699.2M1219.18 475.7L1219.25 476.7M1219.45 838.2L1219.51 846.0M1219.71 531.2L1219.78 633.1M1219.98 617.6L1220.04 479.2M1220.24 478.0L1220.31 478.2M1220.50 851.8L1220.57 537.8"/><path d="M403.50 221.0L432.84 223.0M494.63 214.0L510.12 244.0M547.94 218.0L558.47 238.0M585.77 125.0L593.74 230.0M615.10 158.0L621.52 172.0M639.07 243.0L644.44 266.0M659.34 198.0L663.95 143.0M676.90 164.0L680.94 222.0M692.38 225.0L695.98 282.0M706.23 330.0L709.48 466.5M718.77 351.5L721.72 259.0M730.21 250.0L732.92 285.0M740.73 273.0L743.23 205.0M750.47 192.5L752.80 235.0M759.54 390.0L761.72 265.0M768.03 218.0L770.07 300.0M776.00 322.0L777.92 222.0M783.51 282.0L785.33 252.0M790.62 526.0L792.34 300.0M797.37 340.0L799.00 387.0M803.78 322.0L805.34 310.0M809.90 221.0L811.38 374.0M815.74 330.0L817.16 395.5M820.65 331.8L821.34 351.0M823.38 380.6L824.05 287.8M826.05 255.2L826.70 260.3M828.66 290.6L829.31 318.5M831.23 319.1L831.86 260.8M833.74 279.1L834.37 322.2M836.21 327.0L836.82 431.0M838.64 285.2L839.24 350.8M841.02 361.9L841.60 298.3M843.35 357.6L843.93 311.6M845.65 306.1L846.22 361.3M847.91 313.7L848.47 349.5M850.13 263.7L850.68 257.5M852.31 282.4L852.85 392.6M854.46 502.0L854.99 313.7M856.57 320.8L857.09 377.4M858.65 313.1L859.16 344.6M860.69 308.3L861.20 287.2M862.71 284.4L863.21 346.7M864.69 308.3L865.18 386.3M866.65 405.7L867.13 414.9M868.57 339.7L869.05 333.0M870.47 298.8L870.94 526.0M872.34 305.5L872.81 347.0M874.19 333.4L874.65 360.9M876.01 358.1L876.46 338.4M877.80 383.3L878.25 553.7M879.57 298.9L880.01 342.9M881.32 383.3L881.75 425.0M883.05 333.4L883.47 309.0M884.75 315.2L885.17 360.5M886.43 368.3L886.84 388.8M888.09 400.0L888.50 332.6M889.73 364.2L890.13 337.4M891.34 411.3L891.74 303.2M892.94 292.1L893.34 285.2M894.52 307.5L894.91 420.2M896.08 363.0L896.47 340.8M897.62 349.8L898.01 343.9M899.15 383.5L899.53 332.0M900.66 322.6L901.03 315.0M902.15 331.2L902.52 337.6M903.62 345.8L903.98 363.0M905.08 345.8L905.44 329.5M906.52 321.7L906.87 313.6M907.94 361.6L908.30 320.1M909.35 351.9L909.70 442.2M910.75 352.9L911.09 327.2M912.13 322.5L912.47 321.7M913.49 317.8L913.83 318.2M914.84 312.0L915.18 360.5M916.18 311.2L916.51 369.8M917.51 331.3L917.84 379.6M918.82 372.8L919.14 319.2M920.12 314.2L920.44 316.2M921.40 532.0L921.72 361.1M922.68 364.2L922.99 329.3M923.94 378.5L924.25 318.8M925.19 316.6L925.50 443.5M926.42 415.4L926.73 335.6M927.65 379.6L927.95 357.0M928.86 354.5L929.17 365.9M930.07 351.7L930.37 369.1M931.26 341.1L931.56 358.0M932.44 334.7L932.74 341.9M933.61 341.6L933.90 420.3M934.77 349.0L935.06 419.8M935.93 349.3L936.21 393.4M937.07 398.7L937.35 447.1M938.20 435.8L938.48 346.0M939.32 346.7L939.60 594.0M940.43 340.5L940.71 438.3M941.53 333.7L941.81 331.8M942.63 355.4L942.90 344.9M943.71 357.0L943.98 360.1M944.79 578.0L945.05 390.5M945.85 377.3L946.12 493.3M946.91 354.8L947.17 419.8M947.96 576.0L948.22 350.6M949.00 339.6L949.26 400.0M950.04 474.4L950.29 356.4M951.06 365.6L951.32 367.0M952.08 376.9L952.33 378.8M953.09 387.1L953.34 387.4M954.09 396.0L954.34 397.0M955.08 407.5L955.33 444.9M956.07 404.4L956.32 469.3M957.05 381.5L957.29 382.7M958.02 446.7L958.26 369.3M958.99 359.0L959.23 571.0M959.94 410.2L960.18 342.5M960.90 388.4L961.13 478.1M961.84 393.8L962.07 352.6M962.78 356.7L963.01 388.6M963.71 345.4L963.94 657.0M964.63 451.8L964.86 447.8M965.55 426.9L965.78 424.0M966.46 456.9L966.69 376.1M967.37 495.3L967.59 344.5M968.27 378.4L968.49 387.2M969.16 358.4L969.38 340.5M970.04 485.1L970.27 334.0M970.93 350.9L971.15 382.0M971.80 364.0L972.02 401.0M972.67 405.0L972.89 378.3M973.53 436.7L973.75 458.8M974.39 464.7L974.61 412.9M975.24 391.4L975.46 445.6M976.09 389.8L976.30 456.4M976.93 379.6L977.14 381.6M977.77 376.8L977.98 470.5M978.60 398.5L978.81 371.2M979.42 411.7L979.63 378.6M980.25 389.5L980.45 363.1M981.06 559.0L981.26 370.8M981.87 375.7L982.07 380.7M982.68 385.2L982.88 405.0M983.48 429.6L983.68 395.9M984.27 425.1L984.47 389.5M985.06 383.7L985.26 382.5M985.85 380.0L986.05 440.9M986.63 488.0L986.83 504.7M987.41 429.1L987.60 376.5M988.18 360.6L988.37 359.2M988.95 355.2L989.14 348.9M989.71 379.5L989.90 365.2M990.47 367.8L990.66 371.3M991.22 382.8L991.41 383.4M991.97 392.8L992.16 441.5M992.72 401.1L992.91 414.3M993.46 381.4L993.65 380.2M994.20 376.2L994.38 373.7M994.93 381.4L995.12 434.1M995.66 405.7L995.84 477.2M996.39 390.2L996.57 484.0M997.11 389.2L997.29 392.7M997.83 471.2L998.01 395.2M998.54 433.1L998.72 399.7M999.25 573.0L999.43 438.4M999.96 392.7L1000.13 396.4M1000.66 391.1L1000.83 425.7M1001.36 431.0L1001.53 388.6M1002.05 386.2L1002.22 434.2M1002.74 468.0L1002.91 434.5M1003.43 460.0L1003.60 480.9M1004.11 481.5L1004.28 376.5M1004.79 462.9L1004.96 420.2M1005.47 443.7L1005.64 386.9M1006.14 424.5L1006.31 394.4M1006.81 394.5L1006.98 476.2M1007.48 401.3L1007.65 399.2M1008.14 436.9L1008.31 476.9M1008.80 528.0L1008.97 405.2M1009.46 407.9L1009.62 431.2M1010.11 413.4L1010.28 457.4M1010.76 406.1L1010.93 426.7M1011.41 488.5L1011.57 396.8M1012.05 387.4L1012.21 388.4M1012.69 396.0L1012.85 378.4M1013.33 550.0L1013.49 372.3M1013.97 494.0L1014.12 373.9M1014.60 379.0L1014.76 452.8M1015.23 418.8L1015.38 392.5M1015.85 562.7L1016.01 392.5M1016.47 517.1L1016.63 388.2M1017.09 386.9L1017.25 383.8M1017.71 513.2L1017.86 383.3M1018.32 387.5L1018.48 445.5M1018.93 452.7L1019.09 410.5M1019.54 403.0L1019.69 391.8M1020.15 393.0L1020.30 417.3M1020.75 563.6L1020.90 451.1M1021.35 485.9L1021.50 397.9M1021.95 578.6L1022.10 399.0M1022.54 397.4L1022.69 426.9M1023.13 436.9L1023.28 482.1M1023.72 396.9L1023.87 395.5M1024.31 400.0L1024.45 470.5M1024.89 397.5L1025.04 466.9M1025.47 546.5L1025.62 400.5M1026.05 525.6L1026.20 405.6M1026.63 404.5L1026.77 406.7M1027.20 410.2L1027.34 473.4M1027.77 500.7L1027.91 413.9M1028.34 414.8L1028.48 466.5M1028.91 439.3L1029.05 523.9M1029.47 516.2L1029.61 408.6M1030.03 597.2L1030.17 406.7M1030.59 563.0L1030.73 612.2M1031.15 512.1L1031.29 402.7M1031.70 477.7L1031.84 397.0M1032.25 399.2L1032.39 485.1M1032.80 564.2L1032.94 431.0M1033.35 518.6L1033.49 389.2M1033.89 417.5L1034.03 393.6M1034.44 398.9L1034.57 536.1M1034.98 432.8L1035.11 404.7M1035.52 404.6L1035.65 582.4M1036.05 464.5L1036.19 411.0M1036.59 415.2L1036.72 468.3M1037.12 476.5L1037.25 417.0M1037.65 422.4L1037.78 479.1M1038.17 426.0L1038.31 480.2M1038.70 565.5L1038.83 423.4M1039.22 423.9L1039.35 487.5M1039.74 525.2L1039.87 463.1M1040.26 522.9L1040.39 415.9M1040.78 416.9L1040.91 415.2M1041.30 410.0L1041.42 414.1M1041.81 409.3L1041.94 411.7M1042.32 532.0L1042.45 483.7M1042.83 514.1L1042.96 408.2M1043.34 401.6L1043.46 401.7M1044.03 401.5L1044.22 398.2M1044.78 497.7L1044.97 420.9M1045.53 439.9L1045.72 443.0M1046.28 446.3L1046.46 450.0M1047.02 447.9L1047.20 484.7M1047.75 441.0L1047.94 520.3M1048.49 553.8L1048.67 438.7M1049.21 436.1L1049.39 471.2M1049.94 523.7L1050.12 485.1M1050.66 627.5L1050.84 432.5M1051.37 425.0L1051.55 431.2M1052.09 430.0L1052.26 600.3M1052.79 435.3L1052.97 439.9M1053.50 438.5L1053.67 464.5M1054.20 445.0L1054.37 444.6M1054.90 448.1L1055.07 581.4M1055.59 480.6L1055.76 573.5M1056.28 455.7L1056.45 537.5M1056.97 450.9L1057.14 494.7M1057.65 632.9L1057.82 430.2M1058.33 415.8L1058.50 412.5M1059.00 406.1L1059.17 668.0M1059.68 411.7L1059.84 669.4M1060.35 560.8L1060.51 420.9M1061.01 630.3L1061.18 425.1M1061.67 428.2L1061.84 594.8M1062.33 505.2L1062.50 499.7M1062.99 615.7L1063.15 438.4M1063.64 443.3L1063.80 443.7M1064.29 449.2L1064.45 449.4M1064.93 452.2L1065.10 483.1M1065.58 661.1L1065.74 435.4M1066.22 424.8L1066.38 460.5M1066.85 581.9L1067.01 411.2M1067.49 462.7L1067.64 407.3M1068.12 411.6L1068.27 693.7M1068.74 419.1L1068.90 476.9M1069.37 693.6L1069.52 424.5M1069.99 529.6L1070.14 427.7M1070.61 434.2L1070.76 435.7M1071.22 617.5L1071.38 451.3M1071.84 445.2L1071.99 449.4M1072.45 446.8L1072.60 615.1M1073.05 442.6L1073.20 513.6M1073.66 501.5L1073.81 437.2M1074.26 433.1L1074.41 433.8M1074.86 431.4L1075.01 445.2M1075.45 624.7L1075.60 424.4M1076.05 689.8L1076.19 421.0M1076.64 443.5L1076.78 430.4M1077.23 429.1L1077.37 430.7M1077.81 434.4L1077.96 434.3M1078.39 436.5L1078.54 562.6M1078.97 440.4L1079.12 477.8M1079.55 532.9L1079.70 670.8M1080.13 505.7L1080.27 448.9M1080.70 451.8L1080.84 629.6M1081.27 663.8L1081.41 484.9M1081.84 637.2L1081.98 457.3M1082.40 463.0L1082.54 714.7M1082.97 455.4L1083.11 564.1M1083.53 449.0L1083.67 539.2M1084.08 550.5L1084.22 497.1M1084.64 435.3L1084.78 434.4M1085.19 434.8L1085.33 435.1M1085.74 433.7L1085.88 434.7M1086.29 436.3L1086.43 617.3M1086.84 563.5L1086.98 437.3M1087.38 441.6L1087.52 440.3M1087.93 438.0L1088.06 616.6M1088.47 440.6L1088.60 464.3M1089.00 569.2L1089.14 709.0M1089.54 585.0L1089.67 447.7M1090.07 448.0L1090.20 445.0M1090.60 448.8L1090.74 447.5M1091.13 467.3L1091.26 525.5M1091.66 538.6L1091.79 507.7M1092.18 449.0L1092.31 453.0M1092.71 453.8L1092.84 670.0M1093.23 454.1L1093.36 737.2M1093.74 487.7L1093.87 452.7M1094.26 567.7L1094.39 443.5M1094.78 442.5L1094.90 754.0M1095.29 437.8L1095.42 677.8M1095.80 464.8L1095.93 515.7M1096.31 479.9L1096.43 442.5M1096.81 444.5L1096.94 532.0M1097.32 441.6L1097.44 521.9M1097.82 497.0L1097.95 448.6M1098.32 448.3L1098.45 448.0M1098.82 452.6L1098.94 534.0M1099.32 535.6L1099.44 450.4M1099.81 452.3L1099.94 452.3M1100.31 604.9L1100.43 459.0M1100.80 458.4L1100.92 460.1M1101.29 458.0L1101.41 505.1M1101.77 509.6L1101.90 545.7M1102.26 464.7L1102.38 464.3M1102.74 467.1L1102.86 636.3M1103.23 546.5L1103.35 470.2M1103.71 462.2L1103.83 463.2M1104.19 457.2L1104.30 491.2M1104.66 609.3L1104.78 453.7M1105.14 450.3L1105.26 444.3M1105.61 440.4L1105.73 438.2M1106.08 437.9L1106.20 432.8M1106.55 439.0L1106.67 462.4M1107.02 508.0L1107.14 440.9M1107.49 445.9L1107.61 561.2M1107.95 598.2L1108.07 450.2M1108.42 743.5L1108.53 453.3M1108.88 669.1L1109.00 453.1M1109.34 503.0L1109.46 458.5M1109.80 472.5L1109.91 472.4M1110.26 482.8L1110.37 586.5M1110.71 604.3L1110.83 486.8M1111.17 471.8L1111.28 727.0M1111.62 462.1L1111.73 510.4M1112.07 444.9L1112.18 531.8M1112.52 431.3L1112.63 604.9M1112.97 441.6L1113.08 588.9M1113.41 441.6L1113.52 471.9M1113.86 468.3L1113.97 449.5M1114.30 456.1L1114.41 454.5M1114.74 506.5L1114.85 459.4M1115.18 904.5L1115.29 498.2M1115.59 758.6L1115.73 463.8M1116.17 519.3L1116.31 454.4M1116.75 451.8L1116.89 452.7M1117.33 444.6L1117.47 559.9M1117.90 441.6L1118.05 645.0M1118.48 632.1L1118.62 700.4M1119.05 577.6L1119.19 637.1M1119.61 452.7L1119.76 495.6M1120.18 479.0L1120.32 474.4M1120.74 483.9L1120.88 661.1M1121.30 515.5L1121.44 474.0M1121.86 469.5L1122.00 587.1M1122.42 468.3L1122.56 469.2M1122.97 463.9L1123.11 515.7M1123.52 461.1L1123.66 689.0M1124.07 451.7L1124.21 570.0M1124.62 450.0L1124.75 601.5M1125.16 537.7L1125.30 445.2M1125.70 441.2L1125.84 442.2M1126.24 443.0L1126.38 438.9M1126.78 445.0L1126.92 918.0M1127.32 451.0L1127.45 546.8M1127.85 628.0L1127.98 457.3M1128.38 522.6L1128.51 465.8M1128.91 466.6L1129.04 560.7M1129.44 470.0L1129.57 688.5M1129.96 568.9L1130.09 575.4M1130.49 502.2L1130.62 692.1M1131.01 488.0L1131.14 626.5M1131.52 720.7L1131.65 572.1M1132.04 478.1L1132.17 476.5M1132.56 476.0L1132.68 472.6M1133.07 467.9L1133.20 463.4M1133.58 521.2L1133.71 458.2M1134.09 455.0L1134.21 538.0M1134.59 468.6L1134.72 543.8M1135.10 458.2L1135.23 570.1M1135.60 715.1L1135.73 461.8M1136.10 466.2L1136.23 589.4M1136.60 469.1L1136.73 583.1M1137.10 540.9L1137.22 474.1M1137.59 712.5L1137.72 476.2M1138.09 476.2L1138.21 476.6M1138.58 479.6L1138.70 573.8M1139.07 479.8L1139.19 717.4M1139.56 495.1L1139.68 469.5M1140.04 496.6L1140.16 466.4M1140.53 581.1L1140.65 861.5M1141.01 459.3L1141.13 668.4M1141.49 605.3L1141.61 590.9M1141.97 473.9L1142.09 466.0M1142.45 543.9L1142.57 604.5M1142.92 472.4L1143.04 475.7M1143.40 682.9L1143.51 556.9M1143.87 484.6L1143.99 650.7M1144.34 616.3L1144.46 641.5M1144.81 636.2L1144.92 472.6M1145.27 466.2L1145.39 523.5M1145.74 634.6L1145.86 572.4M1146.20 615.6L1146.32 488.2M1146.66 669.9L1146.78 449.8M1147.13 454.8L1147.24 460.9M1147.58 492.2L1147.70 656.0M1148.04 653.1L1148.16 484.4M1148.50 491.0L1148.61 529.6M1148.95 690.0L1149.06 522.2M1149.40 510.0L1149.52 498.2M1149.86 726.0L1149.97 497.3M1150.30 493.9L1150.42 522.2M1150.75 490.9L1150.86 490.2M1151.20 489.3L1151.31 491.5M1151.64 486.8L1151.75 488.0M1152.09 484.1L1152.20 714.9M1152.53 478.8L1152.64 608.5M1152.97 476.3L1153.08 492.0M1153.41 474.5L1153.52 492.2M1153.85 537.6L1153.96 470.0M1154.28 721.4L1154.39 475.7M1154.72 475.1L1154.83 476.2M1155.15 483.2L1155.26 499.3M1155.58 484.2L1155.69 589.5M1156.01 587.0L1156.12 486.8M1156.44 486.7L1156.55 490.1M1156.87 485.3L1156.98 578.4M1157.29 520.8L1157.40 527.5M1157.72 492.4L1157.83 468.3M1158.14 554.3L1158.25 488.8M1158.57 596.3L1158.67 573.8M1158.99 485.0L1159.09 436.4M1159.41 534.1L1159.51 474.8M1159.82 622.7L1159.93 484.0M1160.24 507.2L1160.34 763.5M1160.66 495.7L1160.76 544.4M1161.07 489.2L1161.17 554.2M1161.48 922.0L1161.59 486.5M1161.89 549.1L1162.00 486.8M1162.30 481.0L1162.41 641.9M1162.71 478.2L1162.82 540.6M1163.12 474.4L1163.22 486.3M1163.53 473.5L1163.63 590.4M1163.93 775.9L1164.03 468.0M1164.34 484.7L1164.44 477.1M1164.74 478.7L1164.84 587.1M1165.14 483.9L1165.24 620.3M1165.54 487.6L1165.64 718.9M1165.94 489.1L1166.04 677.6M1166.34 479.6L1166.44 492.1M1166.73 571.2L1166.83 701.9M1167.13 464.2L1167.23 492.7M1167.52 771.2L1167.62 455.1M1167.92 452.0L1168.01 639.1M1168.31 648.2L1168.41 461.4M1168.70 588.1L1168.80 465.1M1169.09 467.9L1169.19 467.7M1169.48 475.7L1169.57 473.2M1169.86 572.6L1169.96 478.4M1170.25 481.5L1170.35 484.1M1170.64 486.4L1170.73 786.1M1171.02 506.9L1171.12 513.4M1171.40 501.0L1171.50 490.0M1171.78 489.6L1171.88 491.9M1172.16 493.5L1172.26 698.7M1172.54 492.3L1172.64 674.3M1172.92 496.7L1173.02 679.2M1173.30 493.7L1173.39 603.5M1173.68 493.8L1173.77 537.3M1174.05 576.7L1174.14 484.6M1174.42 515.8L1174.52 482.2M1174.80 609.5L1174.89 479.3M1175.17 520.0L1175.26 476.0M1175.54 475.1L1175.63 474.6M1175.91 665.4L1176.00 470.0M1176.28 549.3L1176.37 476.2M1176.65 480.8L1176.74 586.0M1177.01 599.9L1177.11 522.9M1177.38 571.2L1177.47 506.8M1177.74 724.7L1177.84 488.4M1178.11 489.8L1178.20 627.1M1178.47 586.1L1178.56 618.6M1178.83 513.5L1178.92 514.1M1179.19 731.3L1179.28 489.7M1179.55 491.5L1179.64 844.0M1179.91 583.6L1180.00 487.4M1180.27 483.6L1180.36 481.9M1180.63 479.8L1180.72 489.4M1180.98 477.4L1181.07 495.1M1181.34 705.5L1181.43 475.1M1181.69 495.0L1181.78 471.5M1182.04 562.5L1182.13 470.2M1182.40 467.0L1182.48 523.8M1182.75 631.8L1182.83 672.6M1183.10 523.2L1183.18 465.1M1183.45 628.0L1183.53 463.4M1183.79 465.9L1183.88 466.5M1184.14 460.3L1184.23 575.9M1184.49 531.3L1184.57 568.8M1184.83 686.9L1184.92 461.7M1185.18 664.4L1185.26 459.6M1185.52 460.1L1185.61 459.0M1185.86 458.0L1185.95 609.4M1186.21 664.3L1186.29 460.8M1186.55 490.7L1186.63 462.8M1186.89 469.0L1186.97 582.7M1187.23 469.4L1187.31 800.9M1187.57 517.1L1187.65 486.8M1187.90 497.7L1187.99 481.7M1188.24 477.7L1188.32 659.4M1188.58 590.8L1188.66 482.9M1188.91 483.2L1188.99 505.2M1189.24 484.0L1189.33 634.3M1189.58 745.8L1189.66 486.9M1189.91 489.1L1189.99 491.9M1190.24 621.8L1190.32 490.8M1190.57 497.1L1190.66 1060.0M1190.90 530.3L1190.99 494.2M1191.23 492.6L1191.31 489.9M1191.56 490.4L1191.64 486.5M1191.89 485.8L1191.97 582.4M1192.21 688.2L1192.30 588.8M1192.54 779.7L1192.62 502.6M1192.87 476.4L1192.95 478.8M1193.19 475.4L1193.27 556.5M1193.51 471.7L1193.59 494.3M1193.84 552.1L1193.92 473.6M1194.16 498.1L1194.24 470.6M1194.48 550.4L1194.56 510.6M1194.80 470.6L1194.88 469.8M1195.12 466.3L1195.20 466.4M1195.44 464.8L1195.52 506.4M1195.75 465.8L1195.83 685.0M1196.07 574.7L1196.15 466.0M1196.39 461.3L1196.47 459.0M1196.70 750.3L1196.78 578.1M1197.02 651.3L1197.10 468.4M1197.33 512.2L1197.41 469.1M1197.65 573.8L1197.72 509.2M1197.96 742.7L1198.04 474.0M1198.27 480.3L1198.35 515.9M1198.58 549.1L1198.66 482.1M1198.89 584.7L1198.97 482.3M1199.20 819.4L1199.28 482.2M1199.51 476.6L1199.59 842.9M1199.82 660.1L1199.90 472.7M1200.13 476.4L1200.20 476.1M1200.43 474.4L1200.51 474.5M1200.74 469.0L1200.82 467.8M1201.05 471.8L1201.12 466.8M1201.35 465.8L1201.43 561.8M1201.65 465.1L1201.73 494.2M1201.96 631.2L1202.03 774.5M1202.26 502.4L1202.34 464.3M1202.56 492.0L1202.64 459.9M1202.86 458.0L1202.94 462.2M1203.16 456.0L1203.24 562.6M1203.46 772.5L1203.54 463.0M1203.76 613.7L1203.84 471.6M1204.06 733.2L1204.14 475.7M1204.36 649.1L1204.43 478.2M1204.66 582.4L1204.73 481.9M1204.95 556.1L1205.03 488.6M1205.25 490.1L1205.32 549.5M1205.54 504.7L1205.62 494.8M1205.84 781.2L1205.91 498.8M1206.13 498.9L1206.21 617.3M1206.42 691.2L1206.50 490.5M1206.72 611.0L1206.79 690.3M1207.01 477.5L1207.08 667.4M1207.30 464.0L1207.37 543.3M1207.59 455.3L1207.66 457.7M1207.88 486.9L1207.95 465.9M1208.17 685.3L1208.24 466.1M1208.46 470.7L1208.53 512.4M1208.75 639.5L1208.82 980.6M1209.03 480.7L1209.11 553.4M1209.32 606.3L1209.39 486.9M1209.61 493.9L1209.68 732.3M1209.89 626.9L1209.96 824.1M1210.18 693.2L1210.25 496.1M1210.46 494.6L1210.53 491.1M1210.75 486.4L1210.82 485.1M1211.03 555.7L1211.10 633.9M1211.31 822.1L1211.38 826.8M1211.59 512.3L1211.66 477.2M1211.87 492.1L1211.94 476.2M1212.15 727.2L1212.22 469.1M1212.43 468.3L1212.50 472.2M1212.71 468.7L1212.78 524.4M1212.99 618.9L1213.06 607.7M1213.27 505.5L1213.34 464.8M1213.55 562.5L1213.62 460.5M1213.83 459.4L1213.90 457.4M1214.10 459.8L1214.17 460.6M1214.38 463.9L1214.45 468.6M1214.65 609.7L1214.72 714.2M1214.93 604.6L1215.00 474.6M1215.20 475.8L1215.27 476.6M1215.48 480.0L1215.54 554.8M1215.75 483.2L1215.82 487.2M1216.02 488.0L1216.09 490.2M1216.29 484.6L1216.36 749.2M1216.57 483.7L1216.63 500.4M1216.84 565.5L1216.90 596.6M1217.11 519.5L1217.17 853.6M1217.38 550.9L1217.44 480.8M1217.64 642.7L1217.71 782.8M1217.91 479.7L1217.98 480.2M1218.18 473.5L1218.25 472.8M1218.45 541.1L1218.52 478.0M1218.72 513.9L1218.78 476.9M1218.98 699.2L1219.05 477.3M1219.25 476.7L1219.31 740.8M1219.51 846.0L1219.58 477.9M1219.78 633.1L1219.84 478.6M1220.04 479.2L1220.11 561.4M1220.31 478.2L1220.37 853.8"/></g><polyline points="221.24,256.0 312.37,294.0 365.68,289.0 403.50,221.0 432.84,223.0 456.81,185.0 477.08,122.5 494.63,214.0 510.12,244.0 523.97,200.0 536.50,227.0 547.94,218.0 558.47,238.0 568.21,257.0 577.28,160.0 585.77,125.0 593.74,230.0 601.25,146.0 608.36,130.0 615.10,158.0 621.52,172.0 627.63,327.0 633.48,217.0 639.07,243.0 644.44,266.0 649.60,274.0 654.56,123.0 659.34,198.0 663.95,143.0 668.41,220.0 672.72,149.0 676.90,164.0 680.94,222.0 684.87,153.0 688.68,156.0 692.38,225.0 695.98,282.0 699.49,300.0 702.91,192.5 706.23,330.0 709.48,466.5 712.65,185.4 715.74,270.0 718.77,351.5 721.72,259.0 724.61,475.0 727.44,215.0 730.21,250.0 732.92,285.0 735.57,215.0 738.18,175.5 740.73,273.0 743.23,205.0 745.69,177.0 748.10,313.0 750.47,192.5 752.80,235.0 755.09,290.0 757.33,231.0 759.54,390.0 761.72,265.0 763.85,218.0 765.96,310.0 768.03,218.0 770.07,300.0 772.07,370.0 774.05,293.0 776.00,322.0 777.92,222.0 779.81,245.0 781.68,268.0 783.51,282.0 785.33,252.0 787.12,232.0 788.88,216.6 790.62,526.0 792.34,300.0 794.04,240.8 795.71,300.0 797.37,340.0 799.00,387.0 800.61,300.0 802.21,350.0 803.78,322.0 805.34,310.0 806.88,312.0 808.40,290.0 809.90,221.0 811.38,374.0 812.85,300.0 814.31,262.0 815.74,330.0 817.16,395.5 818.57,335.0 819.96,300.0 820.65,331.8 821.34,351.0 822.02,335.1 822.70,367.5 823.38,380.6 824.05,287.8 824.72,271.6 825.38,245.4 826.05,255.2 826.70,260.3 827.36,370.3 828.01,283.4 828.66,290.6 829.31,318.5 829.95,285.3 830.59,277.0 831.23,319.1 831.86,260.8 832.49,253.2 833.12,359.2 833.74,279.1 834.37,322.2 834.98,302.6 835.60,311.1 836.21,327.0 836.82,431.0 837.43,296.4 838.03,296.4 838.64,285.2 839.24,350.8 839.83,294.2 840.43,295.2 841.02,361.9 841.60,298.3 842.19,305.7 842.77,370.6 843.35,357.6 843.93,311.6 844.51,343.1 845.08,311.8 845.65,306.1 846.22,361.3 846.78,295.0 847.35,291.7 847.91,313.7 848.47,349.5 849.02,273.1 849.58,285.1 850.13,263.7 850.68,257.5 851.22,267.0 851.77,321.0 852.31,282.4 852.85,392.6 853.39,278.6 853.92,269.6 854.46,502.0 854.99,313.7 855.52,302.5 856.04,348.8 856.57,320.8 857.09,377.4 857.61,382.8 858.13,314.3 858.65,313.1 859.16,344.6 859.67,319.0 860.18,470.7 860.69,308.3 861.20,287.2 861.70,279.3 862.21,272.4 862.71,284.4 863.21,346.7 863.70,396.0 864.20,298.9 864.69,308.3 865.18,386.3 865.67,319.4 866.16,323.9 866.65,405.7 867.13,414.9 867.61,320.2 868.09,313.9 868.57,339.7 869.05,333.0 869.53,307.4 870.00,365.8 870.47,298.8 870.94,526.0 871.41,291.6 871.88,352.8 872.34,305.5 872.81,347.0 873.27,322.2 873.73,398.8 874.19,333.4 874.65,360.9 875.10,341.8 875.56,339.2 876.01,358.1 876.46,338.4 876.91,324.4 877.36,316.1 877.80,383.3 878.25,553.7 878.69,415.1 879.13,293.0 879.57,298.9 880.01,342.9 880.45,353.5 880.89,311.0 881.32,383.3 881.75,425.0 882.19,315.2 882.62,343.5 883.05,333.4 883.47,309.0 883.90,305.8 884.32,345.7 884.75,315.2 885.17,360.5 885.59,389.8 886.01,325.6 886.43,368.3 886.84,388.8 887.26,331.2 887.67,338.8 888.09,400.0 888.50,332.6 888.91,342.6 889.32,328.1 889.73,364.2 890.13,337.4 890.54,315.0 890.94,313.4 891.34,411.3 891.74,303.2 892.15,464.0 892.54,341.5 892.94,292.1 893.34,285.2 893.73,318.6 894.13,301.5 894.52,307.5 894.91,420.2 895.30,322.5 895.69,358.8 896.08,363.0 896.47,340.8 896.86,362.8 897.24,379.8 897.62,349.8 898.01,343.9 898.39,385.7 898.77,336.8 899.15,383.5 899.53,332.0 899.90,342.5 900.28,375.4 900.66,322.6 901.03,315.0 901.40,391.3 901.77,344.7 902.15,331.2 902.52,337.6 902.88,352.4 903.25,348.6 903.62,345.8 903.98,363.0 904.35,402.7 904.71,336.8 905.08,345.8 905.44,329.5 905.80,401.0 906.16,320.9 906.52,321.7 906.87,313.6 907.23,318.8 907.59,402.5 907.94,361.6 908.30,320.1 908.65,424.4 909.00,318.0 909.35,351.9 909.70,442.2 910.05,321.9 910.40,324.4 910.75,352.9 911.09,327.2 911.44,323.2 911.78,436.3 912.13,322.5 912.47,321.7 912.81,337.8 913.15,397.0 913.49,317.8 913.83,318.2 914.17,350.8 914.51,399.1 914.84,312.0 915.18,360.5 915.52,596.0 915.85,305.0 916.18,311.2 916.51,369.8 916.85,344.1 917.18,326.8 917.51,331.3 917.84,379.6 918.16,333.8 918.49,425.8 918.82,372.8 919.14,319.2 919.47,362.2 919.79,307.9 920.12,314.2 920.44,316.2 920.76,404.2 921.08,340.2 921.40,532.0 921.72,361.1 922.04,420.6 922.36,334.0 922.68,364.2 922.99,329.3 923.31,341.1 923.62,325.1 923.94,378.5 924.25,318.8 924.56,319.0 924.88,312.0 925.19,316.6 925.50,443.5 925.81,325.7 926.12,330.2 926.42,415.4 926.73,335.6 927.04,339.1 927.34,365.0 927.65,379.6 927.95,357.0 928.26,407.3 928.56,426.0 928.86,354.5 929.17,365.9 929.47,400.7 929.77,351.2 930.07,351.7 930.37,369.1 930.67,427.8 930.96,347.3 931.26,341.1 931.56,358.0 931.85,341.0 932.15,450.6 932.44,334.7 932.74,341.9 933.03,342.1 933.32,419.1 933.61,341.6 933.90,420.3 934.20,450.2 934.49,343.7 934.77,349.0 935.06,419.8 935.35,431.0 935.64,347.9 935.93,349.3 936.21,393.4 936.50,355.6 936.78,352.4 937.07,398.7 937.35,447.1 937.63,351.8 937.92,351.0 938.20,435.8 938.48,346.0 938.76,377.8 939.04,435.8 939.32,346.7 939.60,594.0 939.88,473.0 940.15,444.5 940.43,340.5 940.71,438.3 940.98,347.6 941.26,339.6 941.53,333.7 941.81,331.8 942.08,340.8 942.35,339.3 942.63,355.4 942.90,344.9 943.17,348.5 943.44,372.5 943.71,357.0 943.98,360.1 944.25,431.7 944.52,367.0 944.79,578.0 945.05,390.5 945.32,443.3 945.59,365.0 945.85,377.3 946.12,493.3 946.38,359.8 946.65,445.1 946.91,354.8 947.17,419.8 947.44,353.2 947.70,370.0 947.96,576.0 948.22,350.6 948.48,465.0 948.74,490.6 949.00,339.6 949.26,400.0 949.52,351.2 949.78,351.2 950.04,474.4 950.29,356.4 950.55,361.0 950.80,419.6 951.06,365.6 951.32,367.0 951.57,435.9 951.82,395.8 952.08,376.9 952.33,378.8 952.58,436.2 952.84,403.3 953.09,387.1 953.34,387.4 953.59,420.6 953.84,431.7 954.09,396.0 954.34,397.0 954.59,457.5 954.84,402.1 955.08,407.5 955.33,444.9 955.58,423.4 955.82,399.4 956.07,404.4 956.32,469.3 956.56,386.2 956.80,477.4 957.05,381.5 957.29,382.7 957.54,434.4 957.78,377.6 958.02,446.7 958.26,369.3 958.50,383.1 958.75,464.9 958.99,359.0 959.23,571.0 959.47,397.9 959.71,353.5 959.94,410.2 960.18,342.5 960.42,346.5 960.66,346.3 960.90,388.4 961.13,478.1 961.37,350.5 961.60,403.9 961.84,393.8 962.07,352.6 962.31,357.1 962.54,380.6 962.78,356.7 963.01,388.6 963.24,434.2 963.48,347.1 963.71,345.4 963.94,657.0 964.17,341.1 964.40,338.3 964.63,451.8 964.86,447.8 965.09,334.5 965.32,333.4 965.55,426.9 965.78,424.0 966.01,322.6 966.23,328.7 966.46,456.9 966.69,376.1 966.91,334.9 967.14,335.8 967.37,495.3 967.59,344.5 967.82,355.3 968.04,349.9 968.27,378.4 968.49,387.2 968.71,341.9 968.94,432.0 969.16,358.4 969.38,340.5 969.60,337.6 969.82,432.9 970.04,485.1 970.27,334.0 970.49,340.4 970.71,492.1 970.93,350.9 971.15,382.0 971.36,353.8 971.58,449.4 971.80,364.0 972.02,401.0 972.24,371.2 972.45,384.8 972.67,405.0 972.89,378.3 973.10,396.9 973.32,390.3 973.53,436.7 973.75,458.8 973.96,400.2 974.18,400.0 974.39,464.7 974.61,412.9 974.82,396.4 975.03,410.0 975.24,391.4 975.46,445.6 975.67,413.8 975.88,388.8 976.09,389.8 976.30,456.4 976.51,532.0 976.72,433.2 976.93,379.6 977.14,381.6 977.35,471.9 977.56,380.6 977.77,376.8 977.98,470.5 978.18,377.2 978.39,373.4 978.60,398.5 978.81,371.2 979.01,498.9 979.22,367.8 979.42,411.7 979.63,378.6 979.84,365.5 980.04,454.8 980.25,389.5 980.45,363.1 980.65,356.7 980.86,366.0 981.06,559.0 981.26,370.8 981.47,373.2 981.67,477.2 981.87,375.7 982.07,380.7 982.27,391.3 982.48,381.3 982.68,385.2 982.88,405.0 983.08,473.3 983.28,393.9 983.48,429.6 983.68,395.9 983.88,443.4 984.07,394.4 984.27,425.1 984.47,389.5 984.67,390.0 984.87,435.0 985.06,383.7 985.26,382.5 985.46,441.4 985.65,460.9 985.85,380.0 986.05,440.9 986.24,373.6 986.44,371.5 986.63,488.0 986.83,504.7 987.02,370.6 987.21,368.7 987.41,429.1 987.60,376.5 987.79,363.5 987.99,483.8 988.18,360.6 988.37,359.2 988.56,402.9 988.76,356.5 988.95,355.2 989.14,348.9 989.33,373.9 989.52,356.4 989.71,379.5 989.90,365.2 990.09,433.2 990.28,377.9 990.47,367.8 990.66,371.3 990.85,393.2 991.04,522.7 991.22,382.8 991.41,383.4 991.60,428.4 991.79,391.8 991.97,392.8 992.16,441.5 992.35,386.9 992.53,386.5 992.72,401.1 992.91,414.3 993.09,383.8 993.28,468.3 993.46,381.4 993.65,380.2 993.83,443.7 994.02,416.3 994.20,376.2 994.38,373.7 994.57,472.9 994.75,438.5 994.93,381.4 995.12,434.1 995.30,468.8 995.48,380.6 995.66,405.7 995.84,477.2 996.03,385.0 996.21,453.3 996.39,390.2 996.57,484.0 996.75,387.0 996.93,436.8 997.11,389.2 997.29,392.7 997.47,418.8 997.65,391.6 997.83,471.2 998.01,395.2 998.18,407.7 998.36,397.6 998.54,433.1 998.72,399.7 998.90,483.4 999.07,400.4 999.25,573.0 999.43,438.4 999.60,397.2 999.78,435.5 999.96,392.7 1000.13,396.4 1000.31,408.8 1000.48,450.8 1000.66,391.1 1000.83,425.7 1001.01,388.2 1001.18,391.8 1001.36,431.0 1001.53,388.6 1001.70,435.8 1001.88,445.5 1002.05,386.2 1002.22,434.2 1002.40,387.2 1002.57,387.4 1002.74,468.0 1002.91,434.5 1003.09,384.1 1003.26,384.5 1003.43,460.0 1003.60,480.9 1003.77,382.0 1003.94,381.4 1004.11,481.5 1004.28,376.5 1004.45,379.7 1004.62,383.1 1004.79,462.9 1004.96,420.2 1005.13,385.9 1005.30,387.6 1005.47,443.7 1005.64,386.9 1005.81,387.2 1005.98,411.1 1006.14,424.5 1006.31,394.4 1006.48,446.5 1006.65,393.0 1006.81,394.5 1006.98,476.2 1007.15,396.8 1007.31,517.8 1007.48,401.3 1007.65,399.2 1007.81,445.4 1007.98,404.5 1008.14,436.9 1008.31,476.9 1008.47,406.7 1008.64,453.1 1008.80,528.0 1008.97,405.2 1009.13,405.5 1009.30,456.2 1009.46,407.9 1009.62,431.2 1009.79,464.4 1009.95,549.0 1010.11,413.4 1010.28,457.4 1010.44,486.8 1010.60,404.8 1010.76,406.1 1010.93,426.7 1011.09,402.2 1011.25,463.4 1011.41,488.5 1011.57,396.8 1011.73,409.6 1011.89,458.7 1012.05,387.4 1012.21,388.4 1012.37,471.5 1012.53,384.6 1012.69,396.0 1012.85,378.4 1013.01,375.8 1013.17,456.4 1013.33,550.0 1013.49,372.3 1013.65,372.0 1013.81,365.9 1013.97,494.0 1014.12,373.9 1014.28,411.2 1014.44,504.8 1014.60,379.0 1014.76,452.8 1014.91,386.9 1015.07,389.1 1015.23,418.8 1015.38,392.5 1015.54,391.2 1015.70,428.6 1015.85,562.7 1016.01,392.5 1016.16,390.4 1016.32,412.6 1016.47,517.1 1016.63,388.2 1016.78,387.8 1016.94,466.3 1017.09,386.9 1017.25,383.8 1017.40,606.6 1017.56,378.0 1017.71,513.2 1017.86,383.3 1018.02,595.0 1018.17,582.1 1018.32,387.5 1018.48,445.5 1018.63,385.7 1018.78,384.9 1018.93,452.7 1019.09,410.5 1019.24,387.3 1019.39,389.1 1019.54,403.0 1019.69,391.8 1019.85,472.0 1020.00,505.6 1020.15,393.0 1020.30,417.3 1020.45,396.1 1020.60,399.7 1020.75,563.6 1020.90,451.1 1021.05,396.5 1021.20,402.3 1021.35,485.9 1021.50,397.9 1021.65,398.5 1021.80,456.7 1021.95,578.6 1022.10,399.0 1022.24,501.2 1022.39,647.0 1022.54,397.4 1022.69,426.9 1022.84,400.3 1022.98,395.7 1023.13,436.9 1023.28,482.1 1023.43,396.0 1023.57,492.0 1023.72,396.9 1023.87,395.5 1024.01,596.4 1024.16,393.6 1024.31,400.0 1024.45,470.5 1024.60,507.5 1024.75,396.4 1024.89,397.5 1025.04,466.9 1025.18,399.3 1025.33,420.8 1025.47,546.5 1025.62,400.5 1025.76,402.6 1025.91,522.3 1026.05,525.6 1026.20,405.6 1026.34,402.7 1026.48,523.0 1026.63,404.5 1026.77,406.7 1026.91,451.8 1027.06,405.4 1027.20,410.2 1027.34,473.4 1027.49,412.1 1027.63,409.6 1027.77,500.7 1027.91,413.9 1028.06,413.7 1028.20,541.6 1028.34,414.8 1028.48,466.5 1028.62,415.0 1028.76,413.8 1028.91,439.3 1029.05,523.9 1029.19,407.7 1029.33,411.3 1029.47,516.2 1029.61,408.6 1029.75,409.8 1029.89,431.0 1030.03,597.2 1030.17,406.7 1030.31,589.3 1030.45,406.1 1030.59,563.0 1030.73,612.2 1030.87,401.6 1031.01,518.2 1031.15,512.1 1031.29,402.7 1031.42,402.0 1031.56,432.6 1031.70,477.7 1031.84,397.0 1031.98,445.1 1032.11,549.1 1032.25,399.2 1032.39,485.1 1032.53,574.7 1032.66,395.5 1032.80,564.2 1032.94,431.0 1033.08,391.7 1033.21,480.9 1033.35,518.6 1033.49,389.2 1033.62,388.6 1033.76,391.5 1033.89,417.5 1034.03,393.6 1034.17,571.1 1034.30,395.2 1034.44,398.9 1034.57,536.1 1034.71,396.8 1034.84,402.0 1034.98,432.8 1035.11,404.7 1035.25,424.4 1035.38,562.4 1035.52,404.6 1035.65,582.4 1035.78,405.6 1035.92,523.3 1036.05,464.5 1036.19,411.0 1036.32,603.9 1036.45,414.4 1036.59,415.2 1036.72,468.3 1036.85,464.7 1036.98,414.4 1037.12,476.5 1037.25,417.0 1037.38,486.5 1037.51,417.5 1037.65,422.4 1037.78,479.1 1037.91,590.2 1038.04,420.5 1038.17,426.0 1038.31,480.2 1038.44,438.0 1038.57,421.8 1038.70,565.5 1038.83,423.4 1038.96,512.9 1039.09,424.2 1039.22,423.9 1039.35,487.5 1039.48,624.7 1039.61,606.0 1039.74,525.2 1039.87,463.1 1040.00,420.3 1040.13,430.8 1040.26,522.9 1040.39,415.9 1040.52,416.6 1040.65,443.7 1040.78,416.9 1040.91,415.2 1041.04,503.6 1041.17,448.6 1041.30,410.0 1041.42,414.1 1041.55,448.6 1041.68,601.7 1041.81,409.3 1041.94,411.7 1042.06,464.6 1042.19,409.1 1042.32,532.0 1042.45,483.7 1042.57,408.1 1042.70,475.6 1042.83,514.1 1042.96,408.2 1043.08,403.4 1043.21,580.4 1043.34,401.6 1043.46,401.7 1043.65,425.5 1043.84,582.6 1044.03,401.5 1044.22,398.2 1044.41,417.4 1044.60,410.8 1044.78,497.7 1044.97,420.9 1045.16,473.6 1045.35,467.5 1045.53,439.9 1045.72,443.0 1045.90,562.2 1046.09,557.3 1046.28,446.3 1046.46,450.0 1046.65,504.7 1046.83,448.4 1047.02,447.9 1047.20,484.7 1047.39,549.2 1047.57,444.3 1047.75,441.0 1047.94,520.3 1048.12,440.9 1048.30,519.4 1048.49,553.8 1048.67,438.7 1048.85,452.8 1049.03,435.3 1049.21,436.1 1049.39,471.2 1049.58,596.1 1049.76,432.4 1049.94,523.7 1050.12,485.1 1050.30,430.7 1050.48,430.1 1050.66,627.5 1050.84,432.5 1051.02,429.3 1051.20,467.6 1051.37,425.0 1051.55,431.2 1051.73,592.8 1051.91,467.7 1052.09,430.0 1052.26,600.3 1052.44,432.1 1052.62,625.0 1052.79,435.3 1052.97,439.9 1053.15,613.9 1053.32,436.2 1053.50,438.5 1053.67,464.5 1053.85,439.9 1054.03,495.6 1054.20,445.0 1054.37,444.6 1054.55,511.6 1054.72,527.1 1054.90,448.1 1055.07,581.4 1055.24,524.8 1055.42,450.0 1055.59,480.6 1055.76,573.5 1055.94,453.5 1056.11,630.5 1056.28,455.7 1056.45,537.5 1056.62,454.7 1056.80,484.0 1056.97,450.9 1057.14,494.7 1057.31,441.7 1057.48,451.5 1057.65,632.9 1057.82,430.2 1057.99,561.4 1058.16,482.3 1058.33,415.8 1058.50,412.5 1058.67,403.7 1058.84,542.7 1059.00,406.1 1059.17,668.0 1059.34,594.1 1059.51,412.1 1059.68,411.7 1059.84,669.4 1060.01,417.1 1060.18,416.3 1060.35,560.8 1060.51,420.9 1060.68,421.7 1060.84,462.7 1061.01,630.3 1061.18,425.1 1061.34,484.1 1061.51,427.8 1061.67,428.2 1061.84,594.8 1062.00,429.3 1062.17,429.6 1062.33,505.2 1062.50,499.7 1062.66,433.9 1062.82,435.1 1062.99,615.7 1063.15,438.4 1063.31,440.5 1063.48,549.3 1063.64,443.3 1063.80,443.7 1063.96,481.7 1064.13,496.6 1064.29,449.2 1064.45,449.4 1064.61,607.1 1064.77,466.3 1064.93,452.2 1065.10,483.1 1065.26,447.5 1065.42,576.7 1065.58,661.1 1065.74,435.4 1065.90,431.3 1066.06,687.7 1066.22,424.8 1066.38,460.5 1066.53,461.5 1066.69,413.8 1066.85,581.9 1067.01,411.2 1067.17,404.9 1067.33,399.3 1067.49,462.7 1067.64,407.3 1067.80,540.6 1067.96,586.0 1068.12,411.6 1068.27,693.7 1068.43,464.7 1068.59,563.8 1068.74,419.1 1068.90,476.9 1069.06,421.8 1069.21,422.9 1069.37,693.6 1069.52,424.5 1069.68,427.0 1069.83,613.3 1069.99,529.6 1070.14,427.7 1070.30,430.5 1070.45,592.8 1070.61,434.2 1070.76,435.7 1070.92,583.0 1071.07,439.9 1071.22,617.5 1071.38,451.3 1071.53,444.3 1071.68,466.0 1071.84,445.2 1071.99,449.4 1072.14,473.2 1072.29,480.1 1072.45,446.8 1072.60,615.1 1072.75,489.1 1072.90,440.8 1073.05,442.6 1073.20,513.6 1073.36,442.6 1073.51,503.3 1073.66,501.5 1073.81,437.2 1073.96,568.5 1074.11,522.6 1074.26,433.1 1074.41,433.8 1074.56,462.7 1074.71,432.1 1074.86,431.4 1075.01,445.2 1075.16,426.7 1075.30,428.9 1075.45,624.7 1075.60,424.4 1075.75,427.2 1075.90,619.0 1076.05,689.8 1076.19,421.0 1076.34,425.0 1076.49,482.8 1076.64,443.5 1076.78,430.4 1076.93,428.4 1077.08,670.8 1077.23,429.1 1077.37,430.7 1077.52,631.9 1077.67,709.1 1077.81,434.4 1077.96,434.3 1078.10,505.8 1078.25,434.5 1078.39,436.5 1078.54,562.6 1078.68,557.6 1078.83,440.1 1078.97,440.4 1079.12,477.8 1079.26,443.6 1079.41,445.6 1079.55,532.9 1079.70,670.8 1079.84,444.3 1079.98,564.0 1080.13,505.7 1080.27,448.9 1080.41,450.7 1080.56,589.3 1080.70,451.8 1080.84,629.6 1080.99,482.0 1081.13,453.9 1081.27,663.8 1081.41,484.9 1081.55,459.7 1081.70,586.6 1081.84,637.2 1081.98,457.3 1082.12,579.3 1082.26,581.1 1082.40,463.0 1082.54,714.7 1082.68,459.7 1082.83,692.3 1082.97,455.4 1083.11,564.1 1083.25,678.2 1083.39,448.2 1083.53,449.0 1083.67,539.2 1083.81,445.4 1083.95,445.2 1084.08,550.5 1084.22,497.1 1084.36,438.0 1084.50,670.8 1084.64,435.3 1084.78,434.4 1084.92,429.0 1085.06,639.4 1085.19,434.8 1085.33,435.1 1085.47,453.0 1085.61,468.2 1085.74,433.7 1085.88,434.7 1086.02,637.6 1086.16,603.8 1086.29,436.3 1086.43,617.3 1086.57,463.5 1086.70,437.4 1086.84,563.5 1086.98,437.3 1087.11,435.9 1087.25,549.5 1087.38,441.6 1087.52,440.3 1087.66,714.2 1087.79,437.5 1087.93,438.0 1088.06,616.6 1088.20,488.2 1088.33,440.3 1088.47,440.6 1088.60,464.3 1088.73,442.9 1088.87,442.5 1089.00,569.2 1089.14,709.0 1089.27,442.7 1089.41,444.0 1089.54,585.0 1089.67,447.7 1089.81,487.5 1089.94,612.9 1090.07,448.0 1090.20,445.0 1090.34,517.7 1090.47,531.8 1090.60,448.8 1090.74,447.5 1090.87,476.2 1091.00,446.6 1091.13,467.3 1091.26,525.5 1091.40,451.4 1091.53,450.4 1091.66,538.6 1091.79,507.7 1091.92,454.0 1092.05,627.7 1092.18,449.0 1092.31,453.0 1092.44,572.1 1092.58,500.2 1092.71,453.8 1092.84,670.0 1092.97,452.2 1093.10,683.4 1093.23,454.1 1093.36,737.2 1093.49,534.5 1093.62,454.5 1093.74,487.7 1093.87,452.7 1094.00,447.1 1094.13,499.1 1094.26,567.7 1094.39,443.5 1094.52,559.1 1094.65,662.6 1094.78,442.5 1094.90,754.0 1095.03,724.5 1095.16,437.8 1095.29,437.8 1095.42,677.8 1095.54,434.2 1095.67,440.0 1095.80,464.8 1095.93,515.7 1096.05,440.9 1096.18,518.6 1096.31,479.9 1096.43,442.5 1096.56,439.4 1096.69,552.4 1096.81,444.5 1096.94,532.0 1097.07,442.3 1097.19,466.7 1097.32,441.6 1097.44,521.9 1097.57,629.1 1097.70,444.8 1097.82,497.0 1097.95,448.6 1098.07,446.4 1098.20,563.4 1098.32,448.3 1098.45,448.0 1098.57,485.2 1098.70,535.3 1098.82,452.6 1098.94,534.0 1099.07,623.7 1099.19,451.2 1099.32,535.6 1099.44,450.4 1099.56,725.0 1099.69,686.1 1099.81,452.3 1099.94,452.3 1100.06,727.1 1100.18,454.2 1100.31,604.9 1100.43,459.0 1100.55,456.8 1100.67,636.9 1100.80,458.4 1100.92,460.1 1101.04,611.9 1101.16,670.8 1101.29,458.0 1101.41,505.1 1101.53,459.0 1101.65,460.0 1101.77,509.6 1101.90,545.7 1102.02,464.0 1102.14,624.5 1102.26,464.7 1102.38,464.3 1102.50,608.6 1102.62,464.4 1102.74,467.1 1102.86,636.3 1102.99,463.4 1103.11,469.4 1103.23,546.5 1103.35,470.2 1103.47,465.6 1103.59,508.4 1103.71,462.2 1103.83,463.2 1103.95,503.9 1104.07,459.8 1104.19,457.2 1104.30,491.2 1104.42,452.8 1104.54,480.4 1104.66,609.3 1104.78,453.7 1104.90,706.5 1105.02,569.5 1105.14,450.3 1105.26,444.3 1105.38,697.5 1105.49,518.1 1105.61,440.4 1105.73,438.2 1105.85,617.3 1105.97,510.2 1106.08,437.9 1106.20,432.8 1106.32,583.0 1106.44,436.9 1106.55,439.0 1106.67,462.4 1106.79,442.8 1106.91,462.2 1107.02,508.0 1107.14,440.9 1107.26,443.9 1107.37,501.9 1107.49,445.9 1107.61,561.2 1107.72,448.0 1107.84,725.3 1107.95,598.2 1108.07,450.2 1108.19,447.5 1108.30,488.9 1108.42,743.5 1108.53,453.3 1108.65,452.6 1108.76,752.0 1108.88,669.1 1109.00,453.1 1109.11,454.7 1109.23,748.4 1109.34,503.0 1109.46,458.5 1109.57,462.2 1109.68,476.5 1109.80,472.5 1109.91,472.4 1110.03,597.5 1110.14,639.5 1110.26,482.8 1110.37,586.5 1110.48,487.9 1110.60,697.9 1110.71,604.3 1110.83,486.8 1110.94,483.3 1111.05,707.2 1111.17,471.8 1111.28,727.0 1111.39,468.3 1111.51,551.5 1111.62,462.1 1111.73,510.4 1111.84,590.7 1111.96,453.3 1112.07,444.9 1112.18,531.8 1112.29,503.5 1112.41,438.6 1112.52,431.3 1112.63,604.9 1112.74,463.0 1112.85,438.2 1112.97,441.6 1113.08,588.9 1113.19,577.1 1113.30,444.3 1113.41,441.6 1113.52,471.9 1113.64,447.7 1113.75,444.7 1113.86,468.3 1113.97,449.5 1114.08,449.2 1114.19,570.0 1114.30,456.1 1114.41,454.5 1114.52,527.4 1114.63,455.2 1114.74,506.5 1114.85,459.4 1114.96,461.1 1115.07,633.4 1115.18,904.5 1115.29,498.2 1115.40,461.9 1115.51,461.1 1115.59,758.6 1115.73,463.8 1115.88,505.7 1116.02,461.4 1116.17,519.3 1116.31,454.4 1116.46,720.0 1116.60,660.0 1116.75,451.8 1116.89,452.7 1117.04,495.2 1117.18,637.4 1117.33,444.6 1117.47,559.9 1117.62,722.2 1117.76,443.8 1117.90,441.6 1118.05,645.0 1118.19,538.8 1118.33,437.6 1118.48,632.1 1118.62,700.4 1118.76,430.6 1118.90,434.9 1119.05,577.6 1119.19,637.1 1119.33,444.7 1119.47,513.8 1119.61,452.7 1119.76,495.6 1119.90,528.0 1120.04,463.8 1120.18,479.0 1120.32,474.4 1120.46,619.4 1120.60,480.4 1120.74,483.9 1120.88,661.1 1121.02,481.6 1121.16,477.4 1121.30,515.5 1121.44,474.0 1121.58,472.2 1121.72,545.2 1121.86,469.5 1122.00,587.1 1122.14,467.0 1122.28,501.0 1122.42,468.3 1122.56,469.2 1122.69,527.2 1122.83,463.7 1122.97,463.9 1123.11,515.7 1123.25,489.3 1123.38,459.2 1123.52,461.1 1123.66,689.0 1123.80,653.4 1123.93,452.3 1124.07,451.7 1124.21,570.0 1124.34,451.9 1124.48,681.3 1124.62,450.0 1124.75,601.5 1124.89,611.8 1125.03,444.1 1125.16,537.7 1125.30,445.2 1125.43,444.9 1125.57,540.4 1125.70,441.2 1125.84,442.2 1125.97,435.0 1126.11,706.2 1126.24,443.0 1126.38,438.9 1126.51,592.5 1126.65,582.1 1126.78,445.0 1126.92,918.0 1127.05,627.6 1127.18,709.4 1127.32,451.0 1127.45,546.8 1127.58,593.1 1127.72,455.5 1127.85,628.0 1127.98,457.3 1128.12,504.1 1128.25,461.1 1128.38,522.6 1128.51,465.8 1128.65,736.6 1128.78,484.3 1128.91,466.6 1129.04,560.7 1129.17,496.3 1129.31,471.9 1129.44,470.0 1129.57,688.5 1129.70,473.5 1129.83,475.3 1129.96,568.9 1130.09,575.4 1130.22,479.0 1130.36,482.9 1130.49,502.2 1130.62,692.1 1130.75,482.6 1130.88,559.2 1131.01,488.0 1131.14,626.5 1131.27,491.8 1131.40,489.0 1131.52,720.7 1131.65,572.1 1131.78,482.9 1131.91,502.4 1132.04,478.1 1132.17,476.5 1132.30,546.1 1132.43,502.0 1132.56,476.0 1132.68,472.6 1132.81,510.1 1132.94,707.0 1133.07,467.9 1133.20,463.4 1133.32,754.0 1133.45,458.7 1133.58,521.2 1133.71,458.2 1133.83,451.0 1133.96,452.2 1134.09,455.0 1134.21,538.0 1134.34,715.9 1134.47,455.8 1134.59,468.6 1134.72,543.8 1134.85,457.9 1134.97,569.1 1135.10,458.2 1135.23,570.1 1135.35,463.4 1135.48,462.0 1135.60,715.1 1135.73,461.8 1135.85,514.6 1135.98,637.1 1136.10,466.2 1136.23,589.4 1136.35,660.8 1136.48,470.8 1136.60,469.1 1136.73,583.1 1136.85,533.6 1136.97,473.1 1137.10,540.9 1137.22,474.1 1137.35,471.1 1137.47,694.0 1137.59,712.5 1137.72,476.2 1137.84,473.8 1137.96,713.7 1138.09,476.2 1138.21,476.6 1138.33,538.7 1138.46,482.2 1138.58,479.6 1138.70,573.8 1138.82,523.2 1138.95,479.4 1139.07,479.8 1139.19,717.4 1139.31,533.3 1139.43,476.6 1139.56,495.1 1139.68,469.5 1139.80,473.4 1139.92,655.4 1140.04,496.6 1140.16,466.4 1140.28,468.8 1140.41,735.5 1140.53,581.1 1140.65,861.5 1140.77,635.1 1140.89,540.3 1141.01,459.3 1141.13,668.4 1141.25,482.3 1141.37,455.0 1141.49,605.3 1141.61,590.9 1141.73,464.6 1141.85,610.7 1141.97,473.9 1142.09,466.0 1142.21,553.3 1142.33,466.1 1142.45,543.9 1142.57,604.5 1142.68,470.0 1142.80,695.5 1142.92,472.4 1143.04,475.7 1143.16,652.6 1143.28,473.8 1143.40,682.9 1143.51,556.9 1143.63,479.2 1143.75,491.0 1143.87,484.6 1143.99,650.7 1144.10,482.9 1144.22,480.2 1144.34,616.3 1144.46,641.5 1144.57,477.0 1144.69,476.4 1144.81,636.2 1144.92,472.6 1145.04,565.3 1145.16,502.6 1145.27,466.2 1145.39,523.5 1145.51,468.6 1145.62,467.1 1145.74,634.6 1145.86,572.4 1145.97,463.6 1146.09,461.8 1146.20,615.6 1146.32,488.2 1146.43,455.6 1146.55,452.6 1146.66,669.9 1146.78,449.8 1146.90,448.0 1147.01,575.6 1147.13,454.8 1147.24,460.9 1147.36,511.2 1147.47,462.5 1147.58,492.2 1147.70,656.0 1147.81,473.9 1147.93,699.2 1148.04,653.1 1148.16,484.4 1148.27,534.5 1148.38,576.3 1148.50,491.0 1148.61,529.6 1148.72,496.0 1148.84,502.9 1148.95,690.0 1149.06,522.2 1149.18,501.3 1149.29,544.1 1149.40,510.0 1149.52,498.2 1149.63,526.4 1149.74,494.8 1149.86,726.0 1149.97,497.3 1150.08,537.9 1150.19,493.2 1150.30,493.9 1150.42,522.2 1150.53,490.7 1150.64,568.1 1150.75,490.9 1150.86,490.2 1150.98,642.4 1151.09,505.7 1151.20,489.3 1151.31,491.5 1151.42,524.2 1151.53,620.4 1151.64,486.8 1151.75,488.0 1151.87,692.7 1151.98,506.0 1152.09,484.1 1152.20,714.9 1152.31,499.7 1152.42,484.5 1152.53,478.8 1152.64,608.5 1152.75,497.7 1152.86,481.0 1152.97,476.3 1153.08,492.0 1153.19,477.5 1153.30,543.5 1153.41,474.5 1153.52,492.2 1153.63,474.7 1153.74,474.8 1153.85,537.6 1153.96,470.0 1154.06,476.3 1154.17,473.3 1154.28,721.4 1154.39,475.7 1154.50,486.9 1154.61,563.3 1154.72,475.1 1154.83,476.2 1154.93,641.8 1155.04,590.9 1155.15,483.2 1155.26,499.3 1155.37,719.0 1155.47,484.1 1155.58,484.2 1155.69,589.5 1155.80,501.1 1155.90,486.1 1156.01,587.0 1156.12,486.8 1156.23,613.3 1156.33,557.6 1156.44,486.7 1156.55,490.1 1156.66,590.8 1156.76,488.0 1156.87,485.3 1156.98,578.4 1157.08,481.2 1157.19,478.3 1157.29,520.8 1157.40,527.5 1157.51,472.9 1157.61,472.9 1157.72,492.4 1157.83,468.3 1157.93,484.5 1158.04,463.1 1158.14,554.3 1158.25,488.8 1158.35,452.3 1158.46,455.3 1158.57,596.3 1158.67,573.8 1158.78,447.6 1158.88,444.4 1158.99,485.0 1159.09,436.4 1159.20,554.5 1159.30,450.8 1159.41,534.1 1159.51,474.8 1159.61,457.7 1159.72,463.9 1159.82,622.7 1159.93,484.0 1160.03,476.7 1160.14,481.8 1160.24,507.2 1160.34,763.5 1160.45,490.5 1160.55,640.2 1160.66,495.7 1160.76,544.4 1160.86,566.3 1160.97,492.5 1161.07,489.2 1161.17,554.2 1161.28,730.8 1161.38,486.1 1161.48,922.0 1161.59,486.5 1161.69,486.2 1161.79,495.6 1161.89,549.1 1162.00,486.8 1162.10,615.2 1162.20,621.7 1162.30,481.0 1162.41,641.9 1162.51,572.8 1162.61,478.4 1162.71,478.2 1162.82,540.6 1162.92,653.6 1163.02,474.9 1163.12,474.4 1163.22,486.3 1163.32,661.8 1163.43,473.3 1163.53,473.5 1163.63,590.4 1163.73,561.3 1163.83,470.2 1163.93,775.9 1164.03,468.0 1164.13,472.9 1164.24,491.9 1164.34,484.7 1164.44,477.1 1164.54,731.0 1164.64,478.7 1164.74,478.7 1164.84,587.1 1164.94,556.1 1165.04,478.2 1165.14,483.9 1165.24,620.3 1165.34,585.1 1165.44,483.4 1165.54,487.6 1165.64,718.9 1165.74,529.6 1165.84,485.9 1165.94,489.1 1166.04,677.6 1166.14,495.7 1166.24,486.8 1166.34,479.6 1166.44,492.1 1166.54,647.8 1166.64,474.7 1166.73,571.2 1166.83,701.9 1166.93,467.1 1167.03,522.6 1167.13,464.2 1167.23,492.7 1167.33,463.0 1167.43,514.3 1167.52,771.2 1167.62,455.1 1167.72,454.0 1167.82,448.8 1167.92,452.0 1168.01,639.1 1168.11,458.2 1168.21,458.0 1168.31,648.2 1168.41,461.4 1168.50,883.0 1168.60,464.1 1168.70,588.1 1168.80,465.1 1168.89,636.4 1168.99,548.7 1169.09,467.9 1169.19,467.7 1169.28,564.2 1169.38,754.3 1169.48,475.7 1169.57,473.2 1169.67,740.0 1169.77,476.6 1169.86,572.6 1169.96,478.4 1170.06,479.1 1170.15,650.4 1170.25,481.5 1170.35,484.1 1170.44,648.9 1170.54,485.3 1170.64,486.4 1170.73,786.1 1170.83,483.7 1170.92,483.1 1171.02,506.9 1171.12,513.4 1171.21,488.7 1171.31,487.4 1171.40,501.0 1171.50,490.0 1171.59,487.0 1171.69,658.8 1171.78,489.6 1171.88,491.9 1171.97,548.1 1172.07,492.4 1172.16,493.5 1172.26,698.7 1172.35,581.9 1172.45,492.4 1172.54,492.3 1172.64,674.3 1172.73,495.4 1172.83,648.0 1172.92,496.7 1173.02,679.2 1173.11,515.7 1173.21,497.1 1173.30,493.7 1173.39,603.5 1173.49,527.4 1173.58,489.5 1173.68,493.8 1173.77,537.3 1173.86,488.6 1173.96,561.0 1174.05,576.7 1174.14,484.6 1174.24,489.6 1174.33,745.7 1174.42,515.8 1174.52,482.2 1174.61,483.6 1174.70,513.4 1174.80,609.5 1174.89,479.3 1174.98,482.3 1175.08,606.5 1175.17,520.0 1175.26,476.0 1175.36,480.8 1175.45,755.4 1175.54,475.1 1175.63,474.6 1175.73,620.3 1175.82,473.6 1175.91,665.4 1176.00,470.0 1176.10,472.0 1176.19,493.2 1176.28,549.3 1176.37,476.2 1176.46,568.6 1176.56,560.7 1176.65,480.8 1176.74,586.0 1176.83,512.9 1176.92,478.2 1177.01,599.9 1177.11,522.9 1177.20,485.7 1177.29,485.9 1177.38,571.2 1177.47,506.8 1177.56,483.4 1177.65,608.4 1177.74,724.7 1177.84,488.4 1177.93,489.7 1178.02,514.6 1178.11,489.8 1178.20,627.1 1178.29,741.7 1178.38,495.4 1178.47,586.1 1178.56,618.6 1178.65,495.1 1178.74,495.5 1178.83,513.5 1178.92,514.1 1179.01,493.3 1179.10,558.0 1179.19,731.3 1179.28,489.7 1179.37,770.5 1179.46,538.4 1179.55,491.5 1179.64,844.0 1179.73,488.3 1179.82,485.2 1179.91,583.6 1180.00,487.4 1180.09,751.1 1180.18,506.1 1180.27,483.6 1180.36,481.9 1180.45,743.0 1180.54,721.9 1180.63,479.8 1180.72,489.4 1180.80,610.8 1180.89,481.3 1180.98,477.4 1181.07,495.1 1181.16,474.8 1181.25,523.3 1181.34,705.5 1181.43,475.1 1181.51,473.4 1181.60,590.7 1181.69,495.0 1181.78,471.5 1181.87,474.5 1181.96,596.9 1182.04,562.5 1182.13,470.2 1182.22,468.1 1182.31,615.8 1182.40,467.0 1182.48,523.8 1182.57,469.5 1182.66,469.1 1182.75,631.8 1182.83,672.6 1182.92,468.0 1183.01,563.4 1183.10,523.2 1183.18,465.1 1183.27,466.3 1183.36,549.6 1183.45,628.0 1183.53,463.4 1183.62,506.1 1183.71,629.9 1183.79,465.9 1183.88,466.5 1183.97,529.9 1184.05,492.0 1184.14,460.3 1184.23,575.9 1184.31,460.8 1184.40,463.1 1184.49,531.3 1184.57,568.8 1184.66,462.6 1184.75,488.6 1184.83,686.9 1184.92,461.7 1185.01,457.8 1185.09,618.8 1185.18,664.4 1185.26,459.6 1185.35,759.7 1185.44,513.1 1185.52,460.1 1185.61,459.0 1185.69,453.9 1185.78,619.1 1185.86,458.0 1185.95,609.4 1186.04,458.0 1186.12,463.5 1186.21,664.3 1186.29,460.8 1186.38,557.4 1186.46,464.3 1186.55,490.7 1186.63,462.8 1186.72,467.3 1186.80,648.4 1186.89,469.0 1186.97,582.7 1187.06,553.1 1187.14,467.9 1187.23,469.4 1187.31,800.9 1187.40,474.1 1187.48,476.0 1187.57,517.1 1187.65,486.8 1187.73,476.3 1187.82,477.2 1187.90,497.7 1187.99,481.7 1188.07,480.3 1188.16,644.2 1188.24,477.7 1188.32,659.4 1188.41,479.8 1188.49,728.2 1188.58,590.8 1188.66,482.9 1188.74,486.0 1188.83,571.7 1188.91,483.2 1188.99,505.2 1189.08,483.9 1189.16,628.4 1189.24,484.0 1189.33,634.3 1189.41,488.4 1189.49,488.6 1189.58,745.8 1189.66,486.9 1189.74,685.2 1189.83,730.0 1189.91,489.1 1189.99,491.9 1190.08,693.1 1190.16,491.1 1190.24,621.8 1190.32,490.8 1190.41,554.5 1190.49,531.0 1190.57,497.1 1190.66,1060.0 1190.74,518.4 1190.82,495.7 1190.90,530.3 1190.99,494.2 1191.07,491.2 1191.15,553.6 1191.23,492.6 1191.31,489.9 1191.40,741.6 1191.48,511.0 1191.56,490.4 1191.64,486.5 1191.72,522.0 1191.81,813.8 1191.89,485.8 1191.97,582.4 1192.05,505.7 1192.13,485.9 1192.21,688.2 1192.30,588.8 1192.38,481.1 1192.46,480.8 1192.54,779.7 1192.62,502.6 1192.70,479.6 1192.78,557.7 1192.87,476.4 1192.95,478.8 1193.03,486.1 1193.11,558.2 1193.19,475.4 1193.27,556.5 1193.35,472.5 1193.43,516.4 1193.51,471.7 1193.59,494.3 1193.67,637.4 1193.75,472.0 1193.84,552.1 1193.92,473.6 1194.00,471.2 1194.08,828.4 1194.16,498.1 1194.24,470.6 1194.32,510.8 1194.40,470.4 1194.48,550.4 1194.56,510.6 1194.64,466.8 1194.72,657.8 1194.80,470.6 1194.88,469.8 1194.96,523.6 1195.04,585.4 1195.12,466.3 1195.20,466.4 1195.28,665.1 1195.36,467.2 1195.44,464.8 1195.52,506.4 1195.60,826.0 1195.68,465.1 1195.75,465.8 1195.83,685.0 1195.91,464.9 1195.99,461.7 1196.07,574.7 1196.15,466.0 1196.23,519.6 1196.31,464.6 1196.39,461.3 1196.47,459.0 1196.55,460.3 1196.63,461.9 1196.70,750.3 1196.78,578.1 1196.86,467.4 1196.94,465.8 1197.02,651.3 1197.10,468.4 1197.18,465.8 1197.25,677.1 1197.33,512.2 1197.41,469.1 1197.49,833.3 1197.57,473.5 1197.65,573.8 1197.72,509.2 1197.80,474.5 1197.88,473.4 1197.96,742.7 1198.04,474.0 1198.12,530.7 1198.19,615.1 1198.27,480.3 1198.35,515.9 1198.43,483.5 1198.50,478.5 1198.58,549.1 1198.66,482.1 1198.74,485.0 1198.82,506.2 1198.89,584.7 1198.97,482.3 1199.05,478.9 1199.13,604.6 1199.20,819.4 1199.28,482.2 1199.36,550.7 1199.43,739.3 1199.51,476.6 1199.59,842.9 1199.67,479.5 1199.74,853.7 1199.82,660.1 1199.90,472.7 1199.97,475.8 1200.05,640.5 1200.13,476.4 1200.20,476.1 1200.28,715.8 1200.36,597.1 1200.43,474.4 1200.51,474.5 1200.59,536.8 1200.66,582.1 1200.74,469.0 1200.82,467.8 1200.89,774.6 1200.97,532.1 1201.05,471.8 1201.12,466.8 1201.20,567.6 1201.27,468.4 1201.35,465.8 1201.43,561.8 1201.50,652.7 1201.58,466.5 1201.65,465.1 1201.73,494.2 1201.81,497.5 1201.88,464.4 1201.96,631.2 1202.03,774.5 1202.11,464.8 1202.18,634.6 1202.26,502.4 1202.34,464.3 1202.41,460.7 1202.49,549.8 1202.56,492.0 1202.64,459.9 1202.71,777.0 1202.79,470.1 1202.86,458.0 1202.94,462.2 1203.01,536.7 1203.09,457.2 1203.16,456.0 1203.24,562.6 1203.31,463.2 1203.39,740.5 1203.46,772.5 1203.54,463.0 1203.61,464.0 1203.69,597.2 1203.76,613.7 1203.84,471.6 1203.91,467.7 1203.99,685.9 1204.06,733.2 1204.14,475.7 1204.21,475.5 1204.28,509.9 1204.36,649.1 1204.43,478.2 1204.51,524.6 1204.58,483.3 1204.66,582.4 1204.73,481.9 1204.80,484.8 1204.88,764.6 1204.95,556.1 1205.03,488.6 1205.10,487.5 1205.17,740.2 1205.25,490.1 1205.32,549.5 1205.40,491.1 1205.47,533.1 1205.54,504.7 1205.62,494.8 1205.69,498.9 1205.76,792.2 1205.84,781.2 1205.91,498.8 1205.98,501.5 1206.06,760.3 1206.13,498.9 1206.21,617.3 1206.28,800.8 1206.35,492.7 1206.42,691.2 1206.50,490.5 1206.57,632.5 1206.64,485.5 1206.72,611.0 1206.79,690.3 1206.86,478.8 1206.94,568.6 1207.01,477.5 1207.08,667.4 1207.15,519.5 1207.23,467.0 1207.30,464.0 1207.37,543.3 1207.45,573.7 1207.52,459.2 1207.59,455.3 1207.66,457.7 1207.74,460.9 1207.81,493.4 1207.88,486.9 1207.95,465.9 1208.03,468.3 1208.10,583.1 1208.17,685.3 1208.24,466.1 1208.31,838.1 1208.39,473.2 1208.46,470.7 1208.53,512.4 1208.60,475.1 1208.67,506.1 1208.75,639.5 1208.82,980.6 1208.89,548.4 1208.96,549.4 1209.03,480.7 1209.11,553.4 1209.18,484.1 1209.25,487.4 1209.32,606.3 1209.39,486.9 1209.46,581.3 1209.54,556.3 1209.61,493.9 1209.68,732.3 1209.75,541.3 1209.82,494.7 1209.89,626.9 1209.96,824.1 1210.04,497.7 1210.11,499.3 1210.18,693.2 1210.25,496.1 1210.32,619.1 1210.39,703.1 1210.46,494.6 1210.53,491.1 1210.60,520.3 1210.67,524.0 1210.75,486.4 1210.82,485.1 1210.89,649.1 1210.96,484.7 1211.03,555.7 1211.10,633.9 1211.17,480.5 1211.24,480.4 1211.31,822.1 1211.38,826.8 1211.45,479.2 1211.52,480.8 1211.59,512.3 1211.66,477.2 1211.73,474.9 1211.80,624.1 1211.87,492.1 1211.94,476.2 1212.01,475.3 1212.08,685.4 1212.15,727.2 1212.22,469.1 1212.29,471.2 1212.36,614.0 1212.43,468.3 1212.50,472.2 1212.57,502.8 1212.64,468.5 1212.71,468.7 1212.78,524.4 1212.85,467.7 1212.92,467.8 1212.99,618.9 1213.06,607.7 1213.13,466.9 1213.20,830.8 1213.27,505.5 1213.34,464.8 1213.41,466.3 1213.48,537.3 1213.55,562.5 1213.62,460.5 1213.69,459.2 1213.76,831.6 1213.83,459.4 1213.90,457.4 1213.96,456.8 1214.03,544.9 1214.10,459.8 1214.17,460.6 1214.24,579.7 1214.31,616.8 1214.38,463.9 1214.45,468.6 1214.52,635.6 1214.58,468.3 1214.65,609.7 1214.72,714.2 1214.79,472.9 1214.86,472.3 1214.93,604.6 1215.00,474.6 1215.07,475.5 1215.13,837.0 1215.20,475.8 1215.27,476.6 1215.34,855.7 1215.41,481.2 1215.48,480.0 1215.54,554.8 1215.61,482.6 1215.68,602.0 1215.75,483.2 1215.82,487.2 1215.89,510.3 1215.95,531.8 1216.02,488.0 1216.09,490.2 1216.16,811.7 1216.23,754.7 1216.29,484.6 1216.36,749.2 1216.43,707.9 1216.50,485.0 1216.57,483.7 1216.63,500.4 1216.70,543.6 1216.77,482.7 1216.84,565.5 1216.90,596.6 1216.97,484.9 1217.04,479.6 1217.11,519.5 1217.17,853.6 1217.24,482.9 1217.31,482.0 1217.38,550.9 1217.44,480.8 1217.51,554.3 1217.58,481.7 1217.64,642.7 1217.71,782.8 1217.78,477.2 1217.85,687.2 1217.91,479.7 1217.98,480.2 1218.05,792.8 1218.11,476.8 1218.18,473.5 1218.25,472.8 1218.32,475.0 1218.38,478.1 1218.45,541.1 1218.52,478.0 1218.58,474.7 1218.65,728.1 1218.72,513.9 1218.78,476.9 1218.85,534.6 1218.92,474.3 1218.98,699.2 1219.05,477.3 1219.12,626.0 1219.18,475.7 1219.25,476.7 1219.31,740.8 1219.38,476.2 1219.45,838.2 1219.51,846.0 1219.58,477.9 1219.65,476.0 1219.71,531.2 1219.78,633.1 1219.84,478.6 1219.91,477.4 1219.98,617.6 1220.04,479.2 1220.11,561.4 1220.17,511.2 1220.24,478.0 1220.31,478.2 1220.37,853.8 1220.44,490.3 1220.50,851.8 1220.57,537.8" stroke-width="1.8" stroke-opacity="0.9"/></g>
<polyline points="288.9,244.8 293.4,243.3 298.0,241.9 302.5,240.4 307.1,239.0 311.6,237.6 316.2,236.1 320.7,234.7 325.3,233.2 329.8,231.8 334.4,230.4 338.9,228.9 343.5,227.5 348.0,226.0 352.6,224.6 357.1,223.2 361.7,221.7 366.2,220.3 370.8,218.9 375.3,217.4 379.9,216.0 384.4,214.6 389.0,213.1 393.6,211.7 398.1,210.3 402.7,208.9 407.2,207.4 411.8,206.0 416.3,204.6 420.9,203.2 425.4,201.8 430.0,200.3 434.5,198.9 439.1,197.5 443.6,196.1 448.2,194.7 452.7,193.3 457.3,191.9 461.8,190.4 466.4,189.0 470.9,187.6 475.5,186.2 480.1,184.8 484.6,183.4 489.2,182.0 493.7,180.7 498.3,179.3 502.8,177.9 507.4,176.5 511.9,175.1 516.5,173.8 521.0,172.4 525.6,171.0 530.1,169.6 534.7,168.3 539.2,166.9 543.8,165.6 548.3,164.2 552.9,162.9 557.4,161.6 562.0,160.2 566.5,158.9 571.1,157.6 575.7,156.3 580.2,155.0 584.8,153.7 589.3,152.4 593.9,151.1 598.4,149.8 603.0,148.5 607.5,147.3 612.1,146.0 616.6,144.8 621.2,143.5 625.7,142.3 630.3,141.1 634.8,139.9 639.4,138.7 643.9,137.5 648.5,136.3 653.0,135.1 657.6,134.0 662.1,132.8 666.7,131.7 671.2,130.6 675.8,129.5 680.4,128.4 684.9,127.4 689.5,126.3 694.0,125.3 698.6,124.3 703.1,123.3 707.7,122.3 712.2,121.3 716.8,120.4 721.3,119.5 725.9,118.6 730.4,117.7 735.0,116.9 739.5,116.1 744.1,115.3 748.6,114.5 753.2,113.7 757.7,113.0 762.3,112.3 766.9,111.6 771.4,111.0 776.0,110.4 780.5,109.8 785.1,109.3 789.6,108.8 794.2,108.3 798.7,107.9 803.3,107.4 807.8,107.1 812.4,106.7 816.9,106.4 821.5,106.2 826.0,105.9 830.6,105.8 835.1,105.6 839.7,105.5 844.2,105.4 848.8,105.4 853.3,105.4 857.9,105.5 862.5,105.6 867.0,105.7 871.6,105.9 876.1,106.2 880.7,106.5 885.2,106.8 889.8,107.1 894.3,107.6 898.9,108.0 903.4,108.5 908.0,109.1 912.5,109.6 917.1,110.3 921.6,111.0 926.2,111.7 930.7,112.4 935.3,113.3 939.8,114.1 944.4,115.0 948.9,115.9 953.5,116.9 958.1,117.9 962.6,119.0 967.2,120.1 971.7,121.3 976.3,122.4 980.8,123.7 985.4,124.9 989.9,126.2 994.5,127.5 999.0,128.9 1003.6,130.3 1008.1,131.7 1012.7,133.2 1017.2,134.7 1021.8,136.3 1026.3,137.8 1030.9,139.4 1035.4,141.0 1040.0,142.7 1044.5,144.4 1049.1,146.1 1053.7,147.8 1058.2,149.6 1062.8,151.4 1067.3,153.2 1071.9,155.0 1076.4,156.9 1081.0,158.8 1085.5,160.6 1090.1,162.6 1094.6,164.5 1099.2,166.5 1103.7,168.4 1108.3,170.4 1112.8,172.4 1117.4,174.5 1121.9,176.5 1126.5,178.6 1131.0,180.7 1135.6,182.7 1140.1,184.8 1144.7,187.0 1149.2,189.1 1153.8,191.2 1158.4,193.4 1162.9,195.5 1167.5,197.7 1172.0,199.9 1176.6,202.1 1181.1,204.3 1185.7,206.5 1190.2,208.7 1194.8,211.0 1199.3,213.2 1203.9,215.4 1208.4,217.7 1213.0,220.0 1217.5,222.2 1222.1,224.5 1226.6,226.8 1231.2,229.1 1235.7,231.4 1240.3,233.7 1244.8,236.0 1249.4,238.3 1254.0,240.6 1258.5,242.9 1263.1,245.2 1267.6,247.5 1272.2,249.9 1276.7,252.2 1281.3,254.5 1285.8,256.9 1290.4,259.2 1294.9,261.6 1299.5,263.9 1304.0,266.3 1308.6,268.6 1313.1,271.0 1317.7,273.4 1322.2,275.7 1326.8,278.1 1331.3,280.5 1335.9,282.8 1340.5,285.2 1345.0,287.6 1349.6,290.0 1354.1,292.3 1358.7,294.7 1363.2,297.1 1367.8,299.5 1372.3,301.9 1376.9,304.3 1381.4,306.7 1386.0,309.0 1390.5,311.4 1395.1,313.8 1399.6,316.2 1404.2,318.6 1408.7,321.0 1413.3,323.4 1417.8,325.8 1422.4,328.2 1426.9,330.6 1431.5,333.0 1436.1,335.4 1440.6,337.8 1445.2,340.2 1449.7,342.6 1454.3,345.0 1458.8,347.4 1463.4,349.8 1467.9,352.2 1472.5,354.7 1477.0,357.1 1481.6,359.5 1486.1,361.9 1490.7,364.3 1495.2,366.7 1499.8,369.1 1504.3,371.5 1508.9,373.9 1513.4,376.3 1518.0,378.7 1522.5,381.2 1527.1,383.6 1531.7,386.0 1536.2,388.4 1540.8,390.8 1545.3,393.2 1549.9,395.6 1554.4,398.0 1559.0,400.5 1563.5,402.9 1568.1,405.3 1572.6,407.7 1577.2,410.1 1581.7,412.5 1586.3,414.9 1590.8,417.4 1595.4,419.8 1599.9,422.2 1604.5,424.6 1609.0,427.0 1613.6,429.4 1618.1,431.9 1622.7,434.3 1627.2,436.7 1631.8,439.1 1636.4,441.5 1640.9,443.9 1645.5,446.3 1650.0,448.8 1654.6,451.2 1659.1,453.6 1663.7,456.0 1668.2,458.4 1672.8,460.8 1677.3,463.3 1681.9,465.7 1686.4,468.1 1691.0,470.5 1695.5,472.9 1700.1,475.4 1704.6,477.8 1709.2,480.2 1713.7,482.6 1718.3,485.0 1722.8,487.4 1727.4,489.9 1732.0,492.3 1736.5,494.7 1741.1,497.1 1745.6,499.5 1750.2,501.9 1754.7,504.4 1759.3,506.8 1763.8,509.2 1768.4,511.6 1772.9,514.0 1777.5,516.5 1782.0,518.9 1786.6,521.3 1791.1,523.7 1795.7,526.1 1800.2,528.5 1804.8,531.0 1809.3,533.4 1813.9,535.8 1818.4,538.2 1823.0,540.6 1827.6,543.1 1832.1,545.5 1836.7,547.9 1841.2,550.3 1845.8,552.7 1850.3,555.1 1854.9,557.6 1859.4,560.0 1864.0,562.4 1868.5,564.8 1873.1,567.2 1877.6,569.7 1882.2,572.1 1886.7,574.5 1891.3,576.9 1895.8,579.3 1900.4,581.7 1904.9,584.2 1909.5,586.6 1914.0,589.0 1918.6,591.4 1923.2,593.8 1927.7,596.3 1932.3,598.7 1936.8,601.1 1941.4,603.5 1945.9,605.9 1950.5,608.4 1955.0,610.8 1959.6,613.2 1964.1,615.6 1968.7,618.0 1973.2,620.4 1977.8,622.9 1982.3,625.3 1986.9,627.7 1991.4,630.1 1996.0,632.5 2000.5,635.0 2005.1,637.4 2009.7,639.8 2014.2,642.2 2018.8,644.6 2023.3,647.0 2027.9,649.5 2032.4,651.9 2037.0,654.3 2041.5,656.7 2046.1,659.1 2050.6,661.6 2055.2,664.0 2059.7,666.4 2064.3,668.8 2068.8,671.2 2073.4,673.6 2077.9,676.1 2082.5,678.5 2087.0,680.9 2091.6,683.3 2096.1,685.7 2100.7,688.2 2105.2,690.6" fill="none" stroke="#00e020" stroke-opacity="0.7" stroke-width="3.6" stroke-linejoin="round"/>
</g>
<g stroke="#555" stroke-width="3" fill="none">
<path d="M288.8 1054.0h8.5M2183.2 1054.0h-8.5"/>
<path d="M288.8 1045.6h8.5M2183.2 1045.6h-8.5"/>
<path d="M288.8 1038.2h8.5M2183.2 1038.2h-8.5"/>
<path d="M288.8 1031.5h8.5M2183.2 1031.5h-8.5"/>
<path d="M288.8 988.0h8.5M2183.2 988.0h-8.5"/>
<path d="M288.8 962.5h8.5M2183.2 962.5h-8.5"/>
<path d="M288.8 944.4h8.5M2183.2 944.4h-8.5"/>
<path d="M288.8 930.4h8.5M2183.2 930.4h-8.5"/>
<path d="M288.8 918.9h8.5M2183.2 918.9h-8.5"/>
<path d="M288.8 909.2h8.5M2183.2 909.2h-8.5"/>
<path d="M288.8 900.8h8.5M2183.2 900.8h-8.5"/>
<path d="M288.8 893.4h8.5M2183.2 893.4h-8.5"/>
<path d="M288.8 886.8h8.5M2183.2 886.8h-8.5"/>
<path d="M288.8 843.2h8.5M2183.2 843.2h-8.5"/>
<path d="M288.8 817.7h8.5M2183.2 817.7h-8.5"/>
<path d="M288.8 799.7h8.5M2183.2 799.7h-8.5"/>
<path d="M288.8 785.6h8.5M2183.2 785.6h-8.5"/>
<path d="M288.8 774.2h8.5M2183.2 774.2h-8.5"/>
<path d="M288.8 764.5h8.5M2183.2 764.5h-8.5"/>
<path d="M288.8 756.1h8.5M2183.2 756.1h-8.5"/>
<path d="M288.8 748.7h8.5M2183.2 748.7h-8.5"/>
<path d="M288.8 742.0h8.5M2183.2 742.0h-8.5"/>
<path d="M288.8 698.5h8.5M2183.2 698.5h-8.5"/>
<path d="M288.8 673.0h8.5M2183.2 673.0h-8.5"/>
<path d="M288.8 654.9h8.5M2183.2 654.9h-8.5"/>
<path d="M288.8 640.9h8.5M2183.2 640.9h-8.5"/>
<path d="M288.8 629.4h8.5M2183.2 629.4h-8.5"/>
<path d="M288.8 619.7h8.5M2183.2 619.7h-8.5"/>
<path d="M288.8 611.3h8.5M2183.2 611.3h-8.5"/>
<path d="M288.8 603.9h8.5M2183.2 603.9h-8.5"/>
<path d="M288.8 597.3h18M2183.2 597.3h-18"/>
<path d="M288.8 553.7h8.5M2183.2 553.7h-8.5"/>
<path d="M288.8 528.2h8.5M2183.2 528.2h-8.5"/>
<path d="M288.8 510.2h8.5M2183.2 510.2h-8.5"/>
<path d="M288.8 496.1h8.5M2183.2 496.1h-8.5"/>
<path d="M288.8 484.7h8.5M2183.2 484.7h-8.5"/>
<path d="M288.8 475.0h8.5M2183.2 475.0h-8.5"/>
<path d="M288.8 466.6h8.5M2183.2 466.6h-8.5"/>
<path d="M288.8 459.2h8.5M2183.2 459.2h-8.5"/>
<path d="M288.8 451.8h18M2183.2 451.8h-18"/>
<path d="M288.8 409.0h8.5M2183.2 409.0h-8.5"/>
<path d="M288.8 383.5h8.5M2183.2 383.5h-8.5"/>
<path d="M288.8 365.4h8.5M2183.2 365.4h-8.5"/>
<path d="M288.8 351.4h8.5M2183.2 351.4h-8.5"/>
<path d="M288.8 339.9h8.5M2183.2 339.9h-8.5"/>
<path d="M288.8 330.2h8.5M2183.2 330.2h-8.5"/>
<path d="M288.8 321.8h8.5M2183.2 321.8h-8.5"/>
<path d="M288.8 314.4h8.5M2183.2 314.4h-8.5"/>
<path d="M288.8 308.2h18M2183.2 308.2h-18"/>
<path d="M288.8 264.2h8.5M2183.2 264.2h-8.5"/>
<path d="M288.8 238.7h8.5M2183.2 238.7h-8.5"/>
<path d="M288.8 220.7h8.5M2183.2 220.7h-8.5"/>
<path d="M288.8 206.6h8.5M2183.2 206.6h-8.5"/>
<path d="M288.8 195.2h8.5M2183.2 195.2h-8.5"/>
<path d="M288.8 185.5h8.5M2183.2 185.5h-8.5"/>
<path d="M288.8 177.1h8.5M2183.2 177.1h-8.5"/>
<path d="M288.8 169.7h8.5M2183.2 169.7h-8.5"/>
<path d="M288.8 163.1h8.5M2183.2 163.1h-8.5"/>
<path d="M288.8 119.5h8.5M2183.2 119.5h-8.5"/>
<path d="M288.8 94.0h8.5M2183.2 94.0h-8.5"/>
<path d="M288.8 75.9h8.5M2183.2 75.9h-8.5"/>
<path d="M288.8 61.9h8.5M2183.2 61.9h-8.5"/>
<path d="M288.8 50.4h8.5M2183.2 50.4h-8.5"/>
<path d="M288.8 40.7h8.5M2183.2 40.7h-8.5"/>
<path d="M288.8 32.3h8.5M2183.2 32.3h-8.5"/>
<path d="M288.8 24.9h8.5M2183.2 24.9h-8.5"/>
<path d="M425.5 18.9v8M425.5 1060.0v-8"/>
<path d="M505.5 18.9v8M505.5 1060.0v-8"/>
<path d="M562.2 18.9v8M562.2 1060.0v-8"/>
<path d="M606.3 18.9v8M606.3 1060.0v-8"/>
<path d="M642.2 18.9v8M642.2 1060.0v-8"/>
<path d="M672.6 18.9v8M672.6 1060.0v-8"/>
<path d="M698.9 18.9v8M698.9 1060.0v-8"/>
<path d="M722.2 18.9v8M722.2 1060.0v-8"/>
<path d="M743.0 18.9v8M743.0 1060.0v-8"/>
<path d="M879.6 18.9v8M879.6 1060.0v-8"/>
<path d="M959.6 18.9v8M959.6 1060.0v-8"/>
<path d="M1016.3 18.9v8M1016.3 1060.0v-8"/>
<path d="M1060.4 18.9v8M1060.4 1060.0v-8"/>
<path d="M1096.3 18.9v8M1096.3 1060.0v-8"/>
<path d="M1126.7 18.9v8M1126.7 1060.0v-8"/>
<path d="M1153.0 18.9v8M1153.0 1060.0v-8"/>
<path d="M1176.3 18.9v8M1176.3 1060.0v-8"/>
<path d="M1197.0 18.9v17M1197.0 1060.0v-17"/>
<path d="M1333.7 18.9v8M1333.7 1060.0v-8"/>
<path d="M1413.7 18.9v8M1413.7 1060.0v-8"/>
<path d="M1470.4 18.9v8M1470.4 1060.0v-8"/>
<path d="M1514.5 18.9v8M1514.5 1060.0v-8"/>
<path d="M1550.4 18.9v8M1550.4 1060.0v-8"/>
<path d="M1580.8 18.9v8M1580.8 1060.0v-8"/>
<path d="M1607.1 18.9v8M1607.1 1060.0v-8"/>
<path d="M1630.4 18.9v8M1630.4 1060.0v-8"/>
<path d="M1650.5 18.9v17M1650.5 1060.0v-17"/>
<path d="M1787.8 18.9v8M1787.8 1060.0v-8"/>
<path d="M1867.8 18.9v8M1867.8 1060.0v-8"/>
<path d="M1924.5 18.9v8M1924.5 1060.0v-8"/>
<path d="M1968.6 18.9v8M1968.6 1060.0v-8"/>
<path d="M2004.5 18.9v8M2004.5 1060.0v-8"/>
<path d="M2034.9 18.9v8M2034.9 1060.0v-8"/>
<path d="M2061.2 18.9v8M2061.2 1060.0v-8"/>
<path d="M2084.5 18.9v8M2084.5 1060.0v-8"/>
<path d="M2105.2 18.9v17M2105.2 1060.0v-17"/>
</g>
<rect x="288.8" y="18.9" width="1894.3999999999999" height="1041.1" fill="none" stroke="#555" stroke-width="3.6"/>
</g>
<g filter="url(#b2)" fill="#333">
<text transform="translate(154.50,337.6) scale(1.06,1)" font-size="62" clip-path="url(#c10)" stroke="#fff" stroke-width="0.7">10</text><text transform="translate(230.00,309.6) scale(1.08,1)" font-size="50.5" clip-path="url(#c1)" stroke="#fff" stroke-width="0.6">1</text>
<text transform="translate(154.50,483.6) scale(1.06,1)" font-size="62" clip-path="url(#c10)" stroke="#fff" stroke-width="0.7">10</text><text transform="translate(225.00,455.6) scale(1.14,1)" font-size="50.5" stroke="#fff" stroke-width="0.6">0</text>
<text transform="translate(138.70,625.7) scale(1.06,1)" font-size="62" clip-path="url(#c10)" stroke="#fff" stroke-width="0.7">10</text><text transform="translate(213.00,597.7) scale(1.08,1)" font-size="50.5" clip-path="url(#cm1)" stroke="#fff" stroke-width="0.6">-1</text>
<text transform="translate(1133.60,1158.3) scale(1.06,1)" font-size="62" clip-path="url(#c10)" stroke="#fff" stroke-width="0.7">10</text><text transform="translate(1207.00,1130.3) scale(1.08,1)" font-size="50.5" clip-path="url(#cm1)" stroke="#fff" stroke-width="0.6">-1</text>
<text transform="translate(1599.10,1158.3) scale(1.06,1)" font-size="62" clip-path="url(#c10)" stroke="#fff" stroke-width="0.7">10</text><text transform="translate(1672.60,1130.3) scale(1.14,1)" font-size="50.5" stroke="#fff" stroke-width="0.6">0</text>
<text transform="translate(2051.90,1158.3) scale(1.06,1)" font-size="62" clip-path="url(#c10)" stroke="#fff" stroke-width="0.7">10</text><text transform="translate(2128.00,1130.3) scale(1.08,1)" font-size="50.5" clip-path="url(#c1)" stroke="#fff" stroke-width="0.6">1</text>
<text transform="translate(71.0,617.8) rotate(-90) scale(1.014,1.32)" font-size="58" fill="#3c3c3c" stroke="#fff" stroke-width="1.3">Power</text>
<text transform="translate(1159,1257.6) scale(1.057,1)" font-size="64" fill="#3c3c3c" stroke="#fff" stroke-width="1.4">Frequency(Hz)</text>
</g>
<text class="cap" y="1378.9" fill="#000"><tspan x="1052.8" font-size="76.2" textLength="23.47" lengthAdjust="spacingAndGlyphs">(</tspan><tspan x="1077.0" font-size="79.3" font-weight="bold" textLength="45.34" lengthAdjust="spacingAndGlyphs">b</tspan><tspan x="1123.6" font-size="76.2" textLength="23.47" lengthAdjust="spacingAndGlyphs">)</tspan></text>
</svg>
</body></html>
